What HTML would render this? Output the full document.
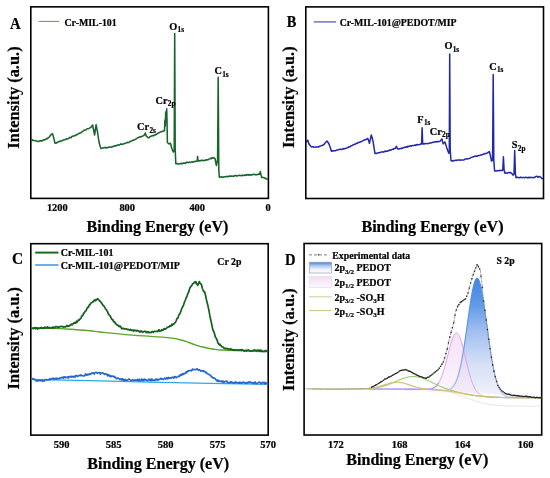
<!DOCTYPE html>
<html><head><meta charset="utf-8"><title>XPS spectra</title>
<style>
html,body{margin:0;padding:0;background:#fff;}
body{width:550px;height:478px;overflow:hidden;}
svg{display:block;}
svg text{font-family:'Liberation Serif','Times New Roman',serif;font-weight:bold;stroke:#000;stroke-width:0.22px;}
</style></head>
<body>
<svg width="550" height="478" viewBox="0 0 550 478">
<rect width="550" height="478" fill="#fff"/>
<rect x="30.8" y="6.85" width="237.60" height="191.55" fill="none" stroke="#000" stroke-width="1.6"/>
<polyline points="31.00,139.30 31.75,139.27 32.50,140.21 33.25,140.44 34.00,140.50 34.78,140.45 35.57,140.83 36.35,140.95 37.13,141.30 37.92,141.59 38.70,141.50 39.49,140.92 40.27,140.65 41.06,141.16 41.84,140.58 42.63,140.66 43.41,139.77 44.20,140.00 44.96,139.55 45.72,139.40 46.48,138.56 47.24,138.80 48.00,138.00 49.00,137.36 50.00,136.00 50.83,134.84 51.67,134.11 52.50,133.80 53.50,137.00 54.25,140.10 55.00,143.20 55.71,142.99 56.43,143.11 57.14,142.36 57.86,141.97 58.57,141.92 59.29,141.32 60.00,141.50 60.70,141.00 61.40,140.94 62.10,140.75 62.80,140.26 63.50,140.01 64.20,139.75 64.90,139.71 65.60,139.31 66.30,138.82 67.00,139.00 67.73,138.97 68.47,138.38 69.20,138.13 69.93,137.38 70.67,137.78 71.40,137.32 72.13,136.33 72.87,136.18 73.60,136.00 74.31,135.87 75.02,135.52 75.73,135.39 76.44,134.60 77.16,134.63 77.87,134.15 78.58,133.49 79.29,133.41 80.00,133.00 80.71,132.92 81.43,132.45 82.14,131.72 82.86,131.37 83.57,130.44 84.29,130.20 85.00,130.00 85.75,129.93 86.50,129.25 87.25,128.69 88.00,128.69 88.75,128.50 89.50,128.13 90.25,127.52 91.00,127.30 91.80,126.10 92.60,125.00 93.60,130.01 94.60,135.00 95.35,129.85 96.10,124.70 96.80,128.35 97.50,132.00 98.25,137.00 99.00,142.00 99.95,145.45 100.90,148.40 101.72,148.30 102.54,148.06 103.36,148.03 104.18,147.50 105.00,147.80 105.71,147.29 106.42,147.78 107.14,147.93 107.85,147.48 108.56,147.20 109.28,146.90 109.99,147.10 110.70,147.00 111.42,147.24 112.13,146.86 112.85,146.46 113.56,146.56 114.28,145.80 114.99,145.86 115.71,146.06 116.42,145.53 117.14,145.23 117.85,144.87 118.57,144.93 119.28,145.10 120.00,144.50 120.75,143.87 121.49,144.39 122.24,144.24 122.98,144.12 123.73,143.81 124.47,143.69 125.22,143.24 125.96,143.10 126.71,142.80 127.45,142.28 128.20,142.50 128.91,142.51 129.62,141.93 130.33,141.28 131.04,141.23 131.75,140.90 132.45,140.46 133.16,140.13 133.87,139.99 134.58,139.75 135.29,139.42 136.00,139.00 136.80,138.56 137.60,137.78 138.40,137.56 139.20,137.11 140.00,137.00 140.75,136.73 141.50,136.62 142.25,136.22 143.00,135.87 143.75,135.53 144.50,134.90 145.30,133.00 146.20,136.00 146.93,136.38 147.67,137.51 148.40,137.80 149.27,137.52 150.13,136.56 151.00,136.50 151.80,135.79 152.60,135.50 153.40,135.89 154.20,135.15 155.00,135.10 155.74,134.35 156.47,134.41 157.21,133.76 157.95,133.11 158.69,132.79 159.43,132.72 160.16,132.00 160.90,131.90 161.62,131.46 162.34,131.61 163.06,131.14 163.78,130.78 164.50,130.70 164.90,120.00 165.30,126.00 165.70,112.00 166.10,122.00 166.70,108.80 167.00,120.00 167.20,131.00 167.40,142.50 168.15,143.20 168.90,143.90 169.65,143.55 170.40,143.20 171.10,145.75 171.80,148.30 172.55,150.15 173.30,152.00 174.20,150.50 174.70,33.50 175.20,150.00 175.80,163.70 176.67,163.81 177.53,163.54 178.40,164.10 179.13,163.88 179.87,163.78 180.60,163.45 181.33,163.26 182.07,163.85 182.80,163.38 183.53,162.98 184.27,163.22 185.00,163.00 185.71,163.18 186.43,162.36 187.14,162.25 187.85,162.26 188.56,162.67 189.28,162.06 189.99,162.44 190.70,162.31 191.41,162.08 192.12,161.69 192.84,162.26 193.55,161.99 194.26,161.63 194.97,161.26 195.69,161.54 196.40,161.30 197.20,161.00 197.60,156.40 198.10,161.00 198.85,160.81 199.61,160.89 200.36,160.57 201.12,160.75 201.87,160.15 202.63,160.27 203.38,160.78 204.14,160.61 204.89,160.01 205.65,160.41 206.40,160.00 207.12,159.59 207.84,159.92 208.56,159.50 209.28,158.96 210.00,158.58 210.72,158.12 211.44,158.66 212.16,157.66 212.88,158.13 213.60,157.60 214.30,158.05 215.00,158.50 215.70,162.00 216.40,165.50 217.60,160.00 218.20,77.20 218.80,170.00 219.30,177.00 220.01,177.39 220.73,177.01 221.44,176.63 222.15,177.23 222.86,177.30 223.57,177.03 224.29,176.83 225.00,176.80 225.70,176.63 226.40,176.53 227.10,176.34 227.80,176.70 228.50,176.41 229.20,176.13 229.90,175.99 230.60,176.43 231.30,176.03 232.00,176.15 232.70,175.93 233.40,176.35 234.10,176.31 234.80,175.46 235.50,175.56 236.20,175.60 236.90,176.13 237.60,175.88 238.30,175.42 239.00,175.50 239.70,175.20 240.41,175.57 241.11,175.67 241.82,175.71 242.52,175.13 243.23,175.57 243.93,175.35 244.64,175.12 245.34,175.53 246.05,174.81 246.75,175.20 247.45,174.58 248.16,174.61 248.86,175.23 249.57,174.56 250.27,175.01 250.98,174.82 251.68,174.99 252.39,174.52 253.09,174.45 253.80,174.36 254.50,174.50 255.23,174.79 255.96,174.51 256.69,174.78 257.41,174.68 258.14,173.96 258.87,174.29 259.60,174.20 260.30,171.60 261.00,175.00 261.80,177.60 262.70,177.44 263.60,177.59 264.50,178.20 265.20,177.98 265.90,178.85 266.60,178.94 267.30,179.14 268.00,179.00" fill="none" stroke="#17652b" stroke-width="1.55" stroke-linejoin="round"/>
<line x1="38.8" y1="21.4" x2="59.2" y2="21.4" stroke="#4f9a6a" stroke-width="1"/>
<text x="64.5" y="25.5" font-size="10" text-anchor="start" fill="#000" textLength="52.2" lengthAdjust="spacingAndGlyphs" >Cr-MIL-101</text>
<text x="9.9" y="28.6" font-size="16.3" text-anchor="start" fill="#000" textLength="10.7" lengthAdjust="spacingAndGlyphs" >A</text>
<text x="57.3" y="211.4" font-size="10.4" text-anchor="middle" fill="#000" >1200</text>
<text x="127.2" y="211.4" font-size="10.4" text-anchor="middle" fill="#000" >800</text>
<text x="197.2" y="211.4" font-size="10.4" text-anchor="middle" fill="#000" >400</text>
<text x="268.2" y="211.4" font-size="10.4" text-anchor="middle" fill="#000" >0</text>
<text x="86.6" y="232.1" font-size="16.1" text-anchor="start" fill="#000" textLength="141.8" lengthAdjust="spacingAndGlyphs" >Binding Energy (eV)</text>
<text transform="translate(18.5,148.7) rotate(-90)" x="0" y="0" font-size="17" textLength="102.3" lengthAdjust="spacingAndGlyphs">Intensity (a.u.)</text>
<text x="169.2" y="29.70" font-size="10.3">O<tspan font-size="7.3" dx="0.3" dy="2.2" stroke="#000" stroke-width="0.2">1s</tspan></text>
<text x="214.4" y="74.40" font-size="10.3">C<tspan font-size="7.3" dx="0.3" dy="2.2" stroke="#000" stroke-width="0.2">1s</tspan></text>
<text x="155.5" y="104.00" font-size="10.3">Cr<tspan font-size="7.3" dx="0.3" dy="2.2" stroke="#000" stroke-width="0.2">2p</tspan></text>
<text x="137.1" y="130.40" font-size="10.3">Cr<tspan font-size="7.3" dx="0.3" dy="2.2" stroke="#000" stroke-width="0.2">2s</tspan></text>
<rect x="305.8" y="6.9" width="237.70" height="191.60" fill="none" stroke="#000" stroke-width="1.6"/>
<polyline points="306.20,143.00 306.80,141.00 307.80,140.20 309.00,144.00 309.90,145.36 310.80,146.36 311.70,147.00 312.43,146.65 313.17,146.67 313.90,147.27 314.63,147.19 315.37,147.14 316.10,146.85 316.83,147.08 317.57,147.09 318.30,147.00 319.08,146.73 319.87,146.06 320.65,145.94 321.43,145.58 322.22,145.51 323.00,145.00 323.75,144.65 324.50,143.86 325.25,142.79 326.00,142.00 327.00,141.00 328.00,142.46 329.00,144.00 329.80,146.25 330.60,148.50 331.40,151.30 332.13,150.78 332.87,150.98 333.60,150.72 334.33,150.63 335.07,150.89 335.80,150.45 336.53,150.34 337.27,149.93 338.00,150.00 338.72,149.45 339.43,149.53 340.15,149.21 340.87,149.34 341.58,149.57 342.30,149.14 343.02,148.58 343.73,148.98 344.45,148.74 345.17,148.52 345.88,148.49 346.60,148.00 347.32,147.86 348.05,147.54 348.77,146.84 349.49,147.00 350.22,146.64 350.94,145.65 351.66,145.78 352.38,145.40 353.11,144.85 353.83,144.56 354.55,144.18 355.28,144.19 356.00,143.50 356.74,143.20 357.47,143.17 358.21,142.48 358.94,142.61 359.68,142.32 360.41,141.67 361.15,141.45 361.89,141.44 362.62,140.98 363.36,140.49 364.09,139.98 364.83,139.76 365.56,139.76 366.30,139.30 367.05,138.85 367.80,138.40 368.60,140.53 369.40,143.20 370.35,139.38 371.30,134.90 372.15,137.76 373.00,141.00 374.00,147.58 375.00,153.50 375.73,153.19 376.45,153.56 377.18,153.20 377.91,152.89 378.64,152.74 379.36,152.69 380.09,152.49 380.82,152.11 381.55,151.88 382.27,151.96 383.00,151.80 383.73,151.99 384.46,151.58 385.19,150.98 385.92,151.42 386.65,151.18 387.38,151.17 388.11,150.43 388.84,150.72 389.57,150.01 390.30,150.20 391.04,150.05 391.79,149.48 392.53,149.17 393.27,149.41 394.01,148.53 394.76,148.59 395.50,148.30 396.40,146.30 397.30,148.50 398.15,149.03 399.00,149.00 399.73,148.60 400.47,148.38 401.20,148.72 401.93,148.17 402.67,148.21 403.40,147.47 404.13,147.54 404.87,147.19 405.60,147.40 406.33,146.73 407.07,147.24 407.80,146.30 408.53,146.67 409.27,145.91 410.00,146.10 410.72,145.79 411.43,146.12 412.15,145.48 412.87,145.38 413.58,145.67 414.30,145.31 415.02,144.92 415.73,145.56 416.45,144.77 417.17,144.56 417.88,144.69 418.60,144.70 419.35,144.59 420.10,144.49 420.85,143.79 421.60,143.90 422.10,127.80 422.70,143.90 423.65,143.77 424.60,143.90 425.37,143.38 426.14,143.57 426.91,143.68 427.69,143.52 428.46,143.51 429.23,143.25 430.00,142.90 430.71,143.06 431.43,142.81 432.14,142.49 432.86,142.17 433.57,142.39 434.29,141.98 435.00,142.00 435.71,141.60 436.43,141.79 437.14,142.04 437.86,141.36 438.57,141.64 439.29,141.40 440.00,141.40 440.95,140.16 441.90,138.90 443.20,143.90 444.10,142.67 445.00,142.00 446.30,146.40 447.60,150.20 448.80,153.30 449.30,150.00 449.70,53.90 450.20,150.00 451.00,160.80 451.70,160.80 452.45,161.12 453.21,160.52 453.96,160.75 454.72,160.55 455.47,160.19 456.23,160.57 456.98,160.19 457.74,160.08 458.49,160.02 459.25,160.07 460.00,160.30 460.72,159.84 461.43,160.12 462.15,159.88 462.87,160.12 463.58,159.94 464.30,159.85 465.02,159.09 465.73,159.12 466.45,158.83 467.17,158.96 467.88,158.84 468.60,158.60 469.38,158.54 470.16,158.17 470.94,157.51 471.72,157.34 472.50,157.10 473.25,156.96 474.00,156.38 474.75,156.25 475.50,156.39 476.25,155.99 477.00,156.32 477.75,155.77 478.50,155.50 479.25,155.41 480.00,155.50 480.73,155.01 481.45,154.73 482.18,154.70 482.91,154.38 483.64,153.98 484.36,153.98 485.09,153.36 485.82,153.64 486.55,153.42 487.27,152.96 488.00,152.50 489.40,151.60 490.50,156.00 491.50,161.10 492.60,160.00 493.20,74.40 493.80,160.00 494.60,171.00 495.31,170.90 496.02,170.92 496.73,170.93 497.44,170.46 498.16,170.71 498.87,170.75 499.58,170.43 500.29,170.32 501.00,170.60 501.90,170.54 502.80,170.00 503.40,156.80 504.10,170.00 505.00,173.20 505.77,172.96 506.54,172.96 507.31,173.15 508.09,172.77 508.86,172.39 509.63,172.82 510.40,172.30 511.27,173.16 512.13,173.85 513.00,175.20 514.00,174.00 514.70,150.40 515.40,174.00 516.00,177.50 516.75,177.66 517.50,177.20 518.25,177.37 519.00,177.81 519.75,177.68 520.50,177.16 521.25,177.52 522.00,177.50 522.75,177.56 523.50,177.35 524.25,177.66 525.00,177.60 525.74,177.25 526.48,177.41 527.22,177.48 527.95,177.92 528.69,177.22 529.43,177.76 530.17,177.30 530.91,177.60 531.65,177.44 532.38,177.49 533.12,177.72 533.86,177.42 534.60,177.50 535.50,176.60 536.40,176.30 537.20,176.50 538.00,177.30 538.90,176.61 539.80,176.60 541.00,177.50 542.00,178.48 543.00,178.90" fill="none" stroke="#2228a8" stroke-width="1.5" stroke-linejoin="round"/>
<line x1="313.8" y1="21.9" x2="336" y2="21.9" stroke="#5560b8" stroke-width="1.3"/>
<text x="339.7" y="25.6" font-size="10" text-anchor="start" fill="#000" textLength="116.8" lengthAdjust="spacingAndGlyphs" >Cr-MIL-101@PEDOT/MIP</text>
<text x="286.7" y="26.7" font-size="16.3" text-anchor="start" fill="#000" textLength="9.6" lengthAdjust="spacingAndGlyphs" >B</text>
<text x="361.4" y="231.9" font-size="16.1" text-anchor="start" fill="#000" textLength="142.2" lengthAdjust="spacingAndGlyphs" >Binding Energy (eV)</text>
<text transform="translate(293.5,148.0) rotate(-90)" x="0" y="0" font-size="17" textLength="101.6" lengthAdjust="spacingAndGlyphs">Intensity (a.u.)</text>
<text x="444.4" y="49.40" font-size="10.3">O<tspan font-size="7.3" dx="0.3" dy="2.2" stroke="#000" stroke-width="0.2">1s</tspan></text>
<text x="489.2" y="69.50" font-size="10.3">C<tspan font-size="7.3" dx="0.3" dy="2.2" stroke="#000" stroke-width="0.2">1s</tspan></text>
<text x="417.3" y="123.10" font-size="10.3">F<tspan font-size="7.3" dx="0.3" dy="2.2" stroke="#000" stroke-width="0.2">1s</tspan></text>
<text x="429.8" y="134.50" font-size="10.3">Cr<tspan font-size="7.3" dx="0.3" dy="2.2" stroke="#000" stroke-width="0.2">2p</tspan></text>
<text x="511.8" y="148.40" font-size="10.3">S<tspan font-size="7.3" dx="0.3" dy="2.2" stroke="#000" stroke-width="0.2">2p</tspan></text>
<rect x="30.8" y="243.7" width="237.40" height="191.40" fill="none" stroke="#000" stroke-width="1.6"/>
<path d="M31.00,328.20 C34.17,328.23 43.50,328.23 50.00,328.40 C56.50,328.57 63.33,328.80 70.00,329.20 C76.67,329.60 85.00,330.33 90.00,330.80 C95.00,331.27 94.10,331.37 100.00,332.00 C105.90,332.63 116.92,333.87 125.40,334.60 C133.88,335.33 144.30,335.93 150.90,336.40 C157.50,336.87 161.18,337.07 165.00,337.40 C168.82,337.73 171.30,338.02 173.80,338.40 C176.30,338.78 177.88,339.17 180.00,339.70 C182.12,340.23 184.58,340.97 186.50,341.60 C188.42,342.23 189.80,342.88 191.50,343.50 C193.20,344.12 195.03,344.75 196.70,345.30 C198.37,345.85 199.80,346.35 201.50,346.80 C203.20,347.25 204.82,347.60 206.90,348.00 C208.98,348.40 211.48,348.87 214.00,349.20 C216.52,349.53 217.67,349.77 222.00,350.00 C226.33,350.23 232.33,350.38 240.00,350.60 C247.67,350.82 263.33,351.18 268.00,351.30" fill="none" stroke="#5aa62a" stroke-width="1.4"/>
<polyline points="31.00,379.40 100.00,380.80 150.00,382.10 210.00,383.40 268.00,384.30" fill="none" stroke="#2ea8e8" stroke-width="1.3"/>
<polyline points="31.00,328.50 31.60,328.05 32.20,328.50 32.80,328.19 33.40,328.53 34.00,328.53 34.60,327.60 35.20,327.49 35.80,328.77 36.40,327.81 37.00,327.74 37.60,328.93 38.20,328.05 38.80,328.61 39.40,328.00 40.00,328.00 40.62,328.19 41.25,327.38 41.88,328.12 42.50,328.46 43.12,327.88 43.75,328.20 44.38,328.06 45.00,327.05 45.62,328.13 46.25,327.83 46.88,327.34 47.50,326.87 48.12,328.18 48.75,327.52 49.38,327.88 50.00,327.50 50.60,328.07 51.20,327.78 51.80,328.07 52.40,327.20 53.00,327.81 53.60,327.21 54.20,327.96 54.80,327.84 55.40,326.56 56.00,326.58 56.60,326.68 57.20,327.10 57.81,327.77 58.41,326.85 59.02,327.09 59.62,326.49 60.23,326.75 60.83,326.48 61.44,326.36 62.04,326.66 62.65,326.58 63.26,327.02 63.86,326.60 64.47,326.92 65.07,326.73 65.68,326.87 66.28,326.29 66.89,325.41 67.49,326.45 68.10,325.80 68.76,326.29 69.41,325.94 70.07,325.14 70.72,325.12 71.38,324.06 72.03,324.80 72.69,324.13 73.34,323.41 74.00,323.50 74.62,322.40 75.25,323.27 75.88,323.08 76.50,321.24 77.12,321.98 77.75,320.96 78.38,320.14 79.00,320.30 79.67,319.09 80.33,318.96 81.00,318.25 81.67,316.04 82.33,316.07 83.00,315.00 83.68,313.12 84.37,313.05 85.05,311.28 85.73,311.01 86.42,310.02 87.10,308.10 87.71,307.41 88.32,307.50 88.94,305.70 89.55,304.62 90.16,304.76 90.78,303.15 91.39,302.72 92.00,302.50 92.61,301.92 93.22,301.81 93.83,300.65 94.44,300.03 95.06,300.92 95.67,299.60 96.28,300.20 96.89,299.67 97.50,298.60 98.10,298.98 98.70,299.70 99.30,300.37 99.90,301.15 100.50,301.50 101.10,302.43 101.70,303.15 102.30,304.03 102.90,305.32 103.50,305.40 104.20,306.53 104.90,307.53 105.60,309.11 106.30,309.46 107.00,311.00 107.66,311.82 108.31,314.05 108.97,314.46 109.63,315.65 110.29,315.93 110.94,317.72 111.60,319.00 112.23,319.84 112.86,319.66 113.49,321.33 114.11,322.07 114.74,321.87 115.37,323.49 116.00,324.00 116.65,324.40 117.30,325.19 117.95,325.11 118.60,326.13 119.25,326.63 119.90,325.94 120.55,326.45 121.20,327.88 121.85,328.79 122.50,328.50 123.12,328.23 123.75,328.68 124.38,329.02 125.00,328.71 125.62,328.91 126.25,328.95 126.88,329.17 127.50,329.65 128.12,329.31 128.75,329.55 129.38,330.31 130.00,330.00 130.63,329.33 131.26,330.28 131.89,330.63 132.51,330.04 133.14,329.98 133.77,331.00 134.40,330.18 135.03,330.19 135.66,330.67 136.29,331.17 136.91,330.31 137.54,330.74 138.17,330.85 138.80,331.20 139.41,331.80 140.01,331.23 140.62,331.97 141.22,330.94 141.83,331.27 142.43,331.84 143.04,332.28 143.64,331.66 144.25,331.36 144.86,331.26 145.46,331.98 146.07,331.51 146.67,332.56 147.28,332.67 147.88,331.69 148.49,331.91 149.09,332.82 149.70,332.40 150.33,332.54 150.96,332.71 151.59,331.88 152.22,331.45 152.85,331.62 153.48,332.33 154.11,331.40 154.74,331.43 155.37,331.46 156.00,331.50 156.63,331.19 157.27,330.99 157.90,331.62 158.53,330.22 159.17,329.79 159.80,331.11 160.43,330.82 161.07,330.81 161.70,329.74 162.33,330.39 162.97,330.17 163.60,329.30 164.20,328.60 164.80,329.18 165.40,329.07 166.00,328.54 166.60,328.05 167.20,327.43 167.80,327.26 168.40,326.82 169.00,327.00 169.61,325.88 170.22,326.28 170.83,325.36 171.44,325.76 172.06,324.11 172.67,325.05 173.28,324.28 173.89,324.21 174.50,323.10 175.10,322.81 175.70,321.90 176.30,320.46 176.90,318.64 177.50,318.50 178.10,317.64 178.70,315.47 179.30,314.43 179.90,313.50 180.55,312.14 181.20,310.29 181.85,308.49 182.50,307.00 183.22,305.95 183.95,303.68 184.68,301.50 185.40,300.00 186.10,297.77 186.80,296.91 187.50,294.50 188.10,292.96 188.70,291.95 189.30,289.76 189.90,288.02 190.50,287.00 191.17,286.06 191.83,285.51 192.50,284.00 193.25,283.50 194.00,283.00 194.63,282.01 195.27,282.53 195.90,281.60 196.75,284.12 197.60,285.30 198.45,283.94 199.30,281.60 200.15,283.32 201.00,284.00 201.67,285.21 202.33,288.21 203.00,290.00 203.67,291.58 204.33,291.28 205.00,293.00 205.75,296.50 206.50,300.00 207.25,303.00 208.00,306.00 208.63,308.97 209.27,312.30 209.90,316.00 210.55,319.04 211.20,321.88 211.85,324.96 212.50,328.00 213.20,330.69 213.90,331.70 214.60,334.04 215.30,337.00 215.94,337.70 216.58,339.00 217.22,340.21 217.86,342.96 218.50,343.50 219.22,344.77 219.94,344.24 220.66,345.60 221.38,346.01 222.10,347.00 222.75,347.00 223.40,347.36 224.05,348.14 224.70,348.34 225.35,348.28 226.00,348.80 226.62,348.41 227.24,348.73 227.87,348.50 228.49,349.29 229.11,349.65 229.73,349.21 230.36,348.83 230.98,349.09 231.60,349.70 232.21,349.53 232.82,349.93 233.43,350.25 234.04,349.64 234.65,350.34 235.25,350.09 235.86,349.81 236.47,349.75 237.08,349.98 237.69,350.34 238.30,349.92 238.91,350.39 239.52,350.05 240.13,349.74 240.74,350.23 241.35,350.52 241.95,349.56 242.56,350.15 243.17,350.19 243.78,350.94 244.39,351.07 245.00,350.40 245.61,350.22 246.22,351.08 246.83,350.93 247.44,350.11 248.06,350.45 248.67,349.93 249.28,351.06 249.89,350.84 250.50,351.22 251.11,351.09 251.72,350.91 252.33,351.04 252.94,350.79 253.56,350.08 254.17,350.87 254.78,349.96 255.39,350.21 256.00,350.80 256.60,351.25 257.20,350.10 257.80,350.19 258.40,350.22 259.00,351.48 259.60,350.38 260.20,350.14 260.80,351.47 261.40,350.33 262.00,351.50 262.60,351.24 263.20,351.52 263.80,351.72 264.40,351.14 265.00,351.50 265.60,350.30 266.20,351.48 266.80,351.09 267.40,351.43 268.00,351.10" fill="none" stroke="#14621d" stroke-width="1.7" stroke-linejoin="round"/>
<polyline points="31.00,378.80 31.67,378.52 32.33,378.49 33.00,379.21 33.67,378.98 34.33,379.02 35.00,380.00 35.66,379.93 36.31,380.97 36.97,380.87 37.62,380.92 38.28,380.06 38.93,380.73 39.59,380.38 40.24,380.30 40.90,381.00 41.55,380.15 42.19,380.21 42.84,381.36 43.48,381.05 44.13,380.87 44.77,380.72 45.42,379.49 46.06,379.57 46.71,380.00 47.35,380.05 48.00,379.50 48.61,380.06 49.23,380.02 49.84,378.52 50.45,379.37 51.07,379.41 51.68,379.03 52.29,378.36 52.91,378.81 53.52,378.04 54.13,379.48 54.75,379.28 55.36,378.63 55.97,378.10 56.59,379.12 57.20,378.30 57.81,378.37 58.42,378.86 59.03,378.74 59.64,378.07 60.25,377.84 60.86,378.11 61.47,377.74 62.08,377.20 62.69,377.39 63.30,378.24 63.90,376.80 64.51,376.74 65.12,377.72 65.73,377.04 66.34,377.43 66.95,377.26 67.56,376.96 68.17,378.08 68.78,376.58 69.39,376.90 70.00,377.00 70.62,376.39 71.23,377.09 71.85,376.38 72.46,376.45 73.08,377.08 73.69,376.24 74.31,376.59 74.93,377.14 75.54,375.62 76.16,375.47 76.77,375.70 77.39,376.59 78.01,376.25 78.62,375.50 79.24,375.59 79.85,375.24 80.47,375.67 81.08,374.85 81.70,375.60 82.34,375.82 82.98,376.04 83.62,376.00 84.25,375.47 84.89,375.74 85.53,373.90 86.17,374.25 86.81,375.33 87.45,374.85 88.08,374.05 88.72,374.87 89.36,374.16 90.00,373.80 90.62,374.30 91.23,373.29 91.85,373.04 92.46,373.42 93.08,372.80 93.69,373.17 94.31,374.15 94.92,372.94 95.54,372.29 96.15,372.29 96.77,372.44 97.38,373.48 98.00,372.90 98.60,372.76 99.20,372.74 99.80,372.50 100.40,374.21 101.00,373.31 101.60,373.03 102.20,372.88 102.80,372.98 103.40,373.29 104.00,374.00 104.63,374.49 105.27,373.72 105.90,373.70 106.53,374.68 107.17,374.42 107.80,375.95 108.43,374.55 109.07,375.45 109.70,376.07 110.33,375.59 110.97,376.80 111.60,376.10 112.23,376.31 112.86,376.14 113.49,376.70 114.12,376.28 114.75,377.23 115.38,377.17 116.02,378.58 116.65,378.73 117.28,378.38 117.91,377.80 118.54,378.45 119.17,378.68 119.80,379.40 120.40,378.90 121.00,378.96 121.60,380.14 122.20,378.85 122.80,378.71 123.40,380.31 124.00,379.68 124.60,380.47 125.20,379.44 125.80,380.36 126.40,379.94 127.00,380.21 127.60,380.15 128.20,379.72 128.80,379.02 129.40,379.26 130.00,379.80 130.62,380.48 131.23,380.53 131.85,380.58 132.46,379.53 133.08,380.11 133.69,380.38 134.31,380.10 134.93,380.42 135.54,379.91 136.16,380.14 136.77,380.20 137.39,379.46 138.00,380.64 138.62,380.71 139.23,379.13 139.85,380.75 140.47,380.74 141.08,380.22 141.70,379.10 142.31,380.64 142.93,379.26 143.54,380.78 144.16,380.24 144.77,379.16 145.39,379.36 146.01,380.21 146.62,380.09 147.24,380.42 147.85,380.75 148.47,379.48 149.08,379.10 149.70,380.00 150.31,380.72 150.91,379.04 151.52,380.55 152.12,379.14 152.73,380.35 153.34,380.26 153.94,380.39 154.55,379.76 155.15,380.31 155.76,379.05 156.36,379.86 156.97,379.20 157.58,380.17 158.18,379.92 158.79,379.33 159.39,379.39 160.00,379.30 160.62,378.37 161.25,378.30 161.88,379.23 162.50,378.95 163.12,379.55 163.75,379.01 164.38,378.08 165.00,378.40 165.62,379.05 166.25,378.53 166.88,377.53 167.50,378.93 168.12,378.83 168.75,377.42 169.38,378.16 170.00,378.00 170.65,377.69 171.31,378.32 171.96,377.36 172.62,377.12 173.27,377.48 173.93,378.24 174.58,376.57 175.24,376.51 175.89,377.32 176.55,377.69 177.20,376.90 177.83,376.61 178.47,376.15 179.10,376.59 179.73,376.13 180.37,374.54 181.00,375.00 181.63,375.39 182.26,373.85 182.89,373.74 183.51,374.41 184.14,373.36 184.77,373.74 185.40,372.90 186.06,371.96 186.71,372.89 187.37,371.29 188.03,370.90 188.69,371.18 189.34,370.55 190.00,370.50 190.61,370.43 191.22,370.93 191.84,370.43 192.45,369.01 193.06,369.41 193.68,369.68 194.29,369.43 194.90,369.30 195.58,369.77 196.27,369.44 196.95,368.79 197.63,369.18 198.32,370.34 199.00,369.80 199.60,369.70 200.20,370.59 200.80,371.14 201.40,370.65 202.00,370.90 202.60,370.93 203.20,370.55 203.80,371.79 204.40,371.20 205.08,371.61 205.77,372.87 206.45,372.25 207.13,373.73 207.82,374.05 208.50,374.00 209.18,374.79 209.87,375.06 210.55,375.10 211.23,376.82 211.92,376.67 212.60,377.50 213.28,378.29 213.96,377.84 214.64,378.25 215.32,378.86 216.00,380.00 216.67,380.78 217.34,379.88 218.01,381.41 218.69,380.68 219.36,381.28 220.03,381.10 220.70,381.60 221.32,381.85 221.94,380.94 222.57,381.53 223.19,382.52 223.81,381.20 224.43,382.09 225.05,381.53 225.67,381.52 226.30,381.05 226.92,381.08 227.54,382.79 228.16,382.61 228.78,382.59 229.40,382.64 230.03,382.94 230.65,381.54 231.27,382.34 231.89,382.22 232.51,382.39 233.13,383.08 233.76,382.80 234.38,383.21 235.00,382.40 235.60,381.72 236.20,382.70 236.80,382.75 237.40,382.89 238.00,382.67 238.60,383.07 239.20,382.13 239.80,383.27 240.40,382.34 241.00,382.70 241.60,383.25 242.20,382.91 242.80,382.21 243.40,382.08 244.00,382.27 244.60,382.82 245.20,383.50 245.80,383.33 246.40,382.45 247.00,382.46 247.60,383.22 248.20,382.27 248.80,382.52 249.40,381.81 250.00,382.70 250.60,382.14 251.20,382.79 251.80,383.07 252.40,382.93 253.00,382.49 253.60,383.55 254.20,382.97 254.80,382.13 255.40,381.98 256.00,383.62 256.60,383.65 257.20,383.54 257.80,382.97 258.40,382.46 259.00,382.06 259.60,382.37 260.20,382.31 260.80,383.59 261.40,383.53 262.00,383.33 262.60,382.21 263.20,382.38 263.80,382.49 264.40,383.67 265.00,382.26 265.60,383.40 266.20,383.21 266.80,382.97 267.40,383.72 268.00,382.90" fill="none" stroke="#2466d0" stroke-width="1.6" stroke-linejoin="round"/>
<line x1="35.2" y1="252.6" x2="58.5" y2="252.6" stroke="#1a6e1e" stroke-width="2"/>
<line x1="35.2" y1="265.0" x2="58.5" y2="265.0" stroke="#2f8ae0" stroke-width="1.4"/>
<text x="60.7" y="256.4" font-size="10" text-anchor="start" fill="#000" textLength="52.8" lengthAdjust="spacingAndGlyphs" >Cr-MIL-101</text>
<text x="60.7" y="268.7" font-size="10" text-anchor="start" fill="#000" textLength="119.3" lengthAdjust="spacingAndGlyphs" >Cr-MIL-101@PEDOT/MIP</text>
<text x="217.3" y="265.0" font-size="10" text-anchor="start" fill="#000" textLength="24.1" lengthAdjust="spacingAndGlyphs" >Cr 2p</text>
<text x="11.9" y="263.9" font-size="16.3" text-anchor="start" fill="#000" textLength="11.1" lengthAdjust="spacingAndGlyphs" >C</text>
<text x="61.6" y="447.7" font-size="10.5" text-anchor="middle" fill="#000" >590</text>
<text x="113.6" y="447.7" font-size="10.5" text-anchor="middle" fill="#000" >585</text>
<text x="165.6" y="447.7" font-size="10.5" text-anchor="middle" fill="#000" >580</text>
<text x="217.6" y="447.7" font-size="10.5" text-anchor="middle" fill="#000" >575</text>
<text x="268.2" y="447.7" font-size="10.5" text-anchor="middle" fill="#000" >570</text>
<text x="87.3" y="468.8" font-size="16.1" text-anchor="start" fill="#000" textLength="141.9" lengthAdjust="spacingAndGlyphs" >Binding Energy (eV)</text>
<text transform="translate(19.4,389.4) rotate(-90)" x="0" y="0" font-size="17" textLength="102.3" lengthAdjust="spacingAndGlyphs">Intensity (a.u.)</text>
<rect x="304.1" y="243.5" width="237.60" height="191.50" fill="none" stroke="#000" stroke-width="1.6"/>
<defs><linearGradient id="gb" x1="0" y1="0" x2="0" y2="1"><stop offset="0" stop-color="#3f84e2"/><stop offset="0.22" stop-color="#629ae6"/><stop offset="0.45" stop-color="#a4c0f0"/><stop offset="0.72" stop-color="#d6e0f7"/><stop offset="1" stop-color="#f3f3fc"/></linearGradient><linearGradient id="sb" gradientUnits="userSpaceOnUse" x1="0" y1="278" x2="0" y2="396"><stop offset="0" stop-color="#4a90e4"/><stop offset="0.5" stop-color="#5c9ae6"/><stop offset="0.85" stop-color="#98aeea"/><stop offset="1" stop-color="#b8c0ee"/></linearGradient><linearGradient id="gp" x1="0" y1="0" x2="0" y2="1"><stop offset="0" stop-color="#f0c8f2"/><stop offset="1" stop-color="#faeefa"/></linearGradient><linearGradient id="lgb" x1="0" y1="0" x2="0" y2="1"><stop offset="0" stop-color="#3d7fe0"/><stop offset="0.3" stop-color="#a6c2f0"/><stop offset="0.65" stop-color="#eef2fc"/><stop offset="1" stop-color="#fdfdff"/></linearGradient><linearGradient id="lgp" x1="0" y1="0" x2="0" y2="1"><stop offset="0" stop-color="#f2def6"/><stop offset="1" stop-color="#fcf8fd"/></linearGradient></defs>
<polyline points="420.10,389.32 420.60,389.33 421.10,389.35 421.60,389.36 422.10,389.38 422.60,389.39 423.10,389.41 423.60,389.43 424.10,389.44 424.60,389.46 425.10,389.48 425.60,389.50 426.10,389.52 426.60,389.55 427.10,389.57 427.60,389.59 428.10,389.62 428.60,389.65 429.10,389.67 429.60,389.70 430.10,389.73 430.60,389.76 431.10,389.79 431.60,389.83 432.10,389.86 432.60,389.90 433.10,389.93 433.60,389.97 434.10,390.01 434.60,390.05 435.10,390.10 435.60,390.14 436.10,390.19 436.60,390.24 437.10,390.29 437.60,390.34 438.10,390.39 438.60,390.45 439.10,390.51 439.60,390.57 440.10,390.63 440.60,390.69 441.10,390.76 441.60,390.83 442.10,390.90 442.60,390.97 443.10,391.05 443.60,391.13 444.10,391.21 444.60,391.29 445.10,391.38 445.60,391.47 446.10,391.56 446.60,391.66 447.10,391.75 447.60,391.85 448.10,391.96 448.60,392.07 449.10,392.17 449.60,392.29 450.10,392.40 450.60,392.52 451.10,392.64 451.60,392.77 452.10,392.90 452.60,393.03 453.10,393.16 453.60,393.30 454.10,393.44 454.60,393.59 455.10,393.73 455.60,393.88 456.10,394.03 456.60,394.19 457.10,394.35 457.60,394.51 458.10,394.67 458.60,394.84 459.10,395.01 459.60,395.18 460.10,395.36 460.60,395.53 461.10,395.71 461.60,395.89 462.10,396.07 462.60,396.26 463.10,396.44 463.60,396.63 464.10,396.82 464.60,397.00 465.10,397.19 465.60,397.38 466.10,397.58 466.60,397.77 467.10,397.96 467.60,398.15 468.10,398.34 468.60,398.53 469.10,398.72 469.60,398.91 470.10,399.10 470.60,399.29 471.10,399.48 471.60,399.66 472.10,399.84 472.60,400.03 473.10,400.20 473.60,400.38 474.10,400.56 474.60,400.73 475.10,400.90 475.60,401.07 476.10,401.23 476.60,401.39 477.10,401.55 477.60,401.71 478.10,401.86 478.60,402.01 479.10,402.15 479.60,402.30 480.10,402.44 480.60,402.57 481.10,402.70 481.60,402.83 482.10,402.96 482.60,403.08 483.10,403.20 483.60,403.32 484.10,403.43 484.60,403.54 485.10,403.64 485.60,403.74 486.10,403.84 486.60,403.94 487.10,404.03 487.60,404.12 488.10,404.21 488.60,404.29 489.10,404.37 489.60,404.45 490.10,404.52 490.60,404.60 491.10,404.67 491.60,404.73 492.10,404.80 492.60,404.86 493.10,404.92 493.60,404.98 494.10,405.03 494.60,405.09 495.10,405.14 495.60,405.19 496.10,405.23 496.60,405.28 497.10,405.32 497.60,405.36 498.10,405.40 498.60,405.44 499.10,405.48 499.60,405.51 500.10,405.55 500.60,405.58 501.10,405.61 501.60,405.64 502.10,405.67 502.60,405.70 503.10,405.72 503.60,405.75 504.10,405.77 504.60,405.80 505.10,405.82 505.60,405.84 506.10,405.86 506.60,405.88 507.10,405.90 507.60,405.91 508.10,405.93 508.60,405.95 509.10,405.96 509.60,405.98 510.10,405.99 510.60,406.01 511.10,406.02 511.60,406.03 512.10,406.04 512.60,406.05 513.10,406.06 513.60,406.07 514.10,406.08 514.60,406.09 515.10,406.10 515.60,406.11 516.10,406.12 516.60,406.13 517.10,406.14 517.60,406.14 518.10,406.15 518.60,406.16 519.10,406.16 519.60,406.17 520.10,406.17 520.60,406.18 521.10,406.19 521.60,406.19 522.10,406.20 522.60,406.20 523.10,406.20 523.60,406.21 524.10,406.21 524.60,406.22 525.10,406.22 525.60,406.22 526.10,406.23 526.60,406.23 527.10,406.23 527.60,406.24 528.10,406.24 528.60,406.24 529.10,406.24 529.60,406.25 530.10,406.25 530.60,406.25 531.10,406.25 531.60,406.26 532.10,406.26 532.60,406.26 533.10,406.26 533.60,406.26 534.10,406.26 534.60,406.27 535.10,406.27 535.60,406.27 536.10,406.27 536.60,406.27 537.10,406.27 537.60,406.27 538.10,406.28 538.60,406.28 539.10,406.28 539.60,406.28 540.10,406.28 540.60,406.28 541.10,406.28" fill="none" stroke="#e2e2e2" stroke-width="1"/>
<polygon points="420.10,389.26 420.60,389.27 421.10,389.28 421.60,389.29 422.10,389.31 422.60,389.32 423.10,389.33 423.60,389.34 424.10,389.36 424.60,389.37 425.10,389.39 425.60,389.40 426.10,389.42 426.60,389.44 427.10,389.46 427.60,389.47 428.10,389.49 428.60,389.51 429.10,389.53 429.60,389.55 430.10,389.58 430.60,389.60 431.10,389.62 431.60,389.65 432.10,389.67 432.60,389.70 433.10,389.72 433.60,389.75 434.10,389.78 434.60,389.81 435.10,389.84 435.60,389.87 436.10,389.90 436.60,389.93 437.10,389.96 437.60,389.99 438.10,390.02 438.60,390.05 439.10,390.08 439.60,390.11 440.10,390.14 440.60,390.17 441.10,390.20 441.60,390.22 442.10,390.24 442.60,390.26 443.10,390.27 443.60,390.27 444.10,390.27 444.60,390.26 445.10,390.24 445.60,390.21 446.10,390.16 446.60,390.10 447.10,390.02 447.60,389.92 448.10,389.80 448.60,389.65 449.10,389.47 449.60,389.26 450.10,389.01 450.60,388.72 451.10,388.38 451.60,387.99 452.10,387.55 452.60,387.05 453.10,386.47 453.60,385.83 454.10,385.11 454.60,384.30 455.10,383.40 455.60,382.41 456.10,381.31 456.60,380.10 457.10,378.79 457.60,377.35 458.10,375.78 458.60,374.09 459.10,372.27 459.60,370.31 460.10,368.21 460.60,365.97 461.10,363.60 461.60,361.09 462.10,358.44 462.60,355.66 463.10,352.75 463.60,349.72 464.10,346.58 464.60,343.33 465.10,340.00 465.60,336.58 466.10,333.09 466.60,329.56 467.10,325.99 467.60,322.41 468.10,318.82 468.60,315.27 469.10,311.75 469.60,308.30 470.10,304.94 470.60,301.69 471.10,298.57 471.60,295.61 472.10,292.82 472.60,290.22 473.10,287.84 473.60,285.70 474.10,283.80 474.60,282.16 475.10,280.81 475.60,279.74 476.10,278.98 476.60,278.51 477.10,278.36 477.60,278.52 478.10,278.98 478.60,279.75 479.10,280.83 479.60,282.19 480.10,283.84 480.60,285.76 481.10,287.93 481.60,290.35 482.10,292.99 482.60,295.83 483.10,298.85 483.60,302.04 484.10,305.36 484.60,308.81 485.10,312.35 485.60,315.96 486.10,319.63 486.60,323.33 487.10,327.03 487.60,330.73 488.10,334.41 488.60,338.04 489.10,341.60 489.60,345.10 490.10,348.50 490.60,351.80 491.10,355.00 491.60,358.07 492.10,361.02 492.60,363.84 493.10,366.53 493.60,369.07 494.10,371.48 494.60,373.74 495.10,375.87 495.60,377.86 496.10,379.71 496.60,381.43 497.10,383.03 497.60,384.50 498.10,385.85 498.60,387.10 499.10,388.23 499.60,389.27 500.10,390.21 500.60,391.06 501.10,391.83 501.60,392.52 502.10,393.14 502.60,393.70 503.10,394.20 503.60,394.64 504.10,395.03 504.60,395.38 505.10,395.69 505.60,395.96 506.10,396.19 506.60,396.40 507.10,396.58 507.60,396.74 508.10,396.88 508.60,397.00 509.10,397.10 509.60,397.19 510.10,397.27 510.60,397.34 511.10,397.39 511.60,397.44 512.10,397.49 512.60,397.52 513.10,397.55 513.60,397.58 514.10,397.60 514.60,397.62 515.10,397.64 515.60,397.65 516.10,397.67 516.60,397.68 517.10,397.69 517.60,397.70 518.10,397.70 518.60,397.71 519.10,397.71 519.60,397.72 520.10,397.72 520.60,397.73 521.10,397.73 521.60,397.74 522.10,397.74 522.60,397.74 523.10,397.74 523.60,397.75 524.10,397.75 524.60,397.75 525.10,397.75 525.60,397.76 526.10,397.76 526.60,397.76 527.10,397.76 527.60,397.76 528.10,397.76 528.60,397.77 529.10,397.77 529.60,397.77 530.10,397.77 530.60,397.77 531.10,397.77 531.60,397.77 532.10,397.77 532.60,397.78 533.10,397.78 533.60,397.78 534.10,397.78 534.60,397.78 535.10,397.78 535.60,397.78 536.10,397.78 536.60,397.78 537.10,397.78 537.60,397.78 538.10,397.78 538.60,397.79 539.10,397.79 539.60,397.79 540.10,397.79 540.60,397.79 541.10,397.79" fill="url(#gb)" stroke="none"/>
<polygon points="368.10,389.00 368.60,389.00 369.10,389.00 369.60,389.00 370.10,389.00 370.60,389.00 371.10,389.00 371.60,389.00 372.10,389.00 372.60,389.01 373.10,389.01 373.60,389.01 374.10,389.01 374.60,389.01 375.10,389.01 375.60,389.01 376.10,389.01 376.60,389.01 377.10,389.01 377.60,389.01 378.10,389.01 378.60,389.01 379.10,389.01 379.60,389.01 380.10,389.01 380.60,389.01 381.10,389.01 381.60,389.01 382.10,389.01 382.60,389.01 383.10,389.01 383.60,389.01 384.10,389.01 384.60,389.01 385.10,389.01 385.60,389.02 386.10,389.02 386.60,389.02 387.10,389.02 387.60,389.02 388.10,389.02 388.60,389.02 389.10,389.02 389.60,389.02 390.10,389.02 390.60,389.02 391.10,389.02 391.60,389.02 392.10,389.03 392.60,389.03 393.10,389.03 393.60,389.03 394.10,389.03 394.60,389.03 395.10,389.03 395.60,389.03 396.10,389.04 396.60,389.04 397.10,389.04 397.60,389.04 398.10,389.04 398.60,389.04 399.10,389.05 399.60,389.05 400.10,389.05 400.60,389.05 401.10,389.05 401.60,389.06 402.10,389.06 402.60,389.06 403.10,389.06 403.60,389.07 404.10,389.07 404.60,389.07 405.10,389.08 405.60,389.08 406.10,389.08 406.60,389.09 407.10,389.09 407.60,389.09 408.10,389.10 408.60,389.10 409.10,389.11 409.60,389.11 410.10,389.11 410.60,389.12 411.10,389.12 411.60,389.13 412.10,389.14 412.60,389.14 413.10,389.15 413.60,389.15 414.10,389.16 414.60,389.17 415.10,389.17 415.60,389.18 416.10,389.19 416.60,389.19 417.10,389.20 417.60,389.21 418.10,389.22 418.60,389.23 419.10,389.23 419.60,389.24 420.10,389.25 420.60,389.26 421.10,389.27 421.60,389.27 422.10,389.28 422.60,389.29 423.10,389.29 423.60,389.29 424.10,389.30 424.60,389.30 425.10,389.29 425.60,389.29 426.10,389.28 426.60,389.27 427.10,389.25 427.60,389.22 428.10,389.19 428.60,389.15 429.10,389.10 429.60,389.04 430.10,388.96 430.60,388.87 431.10,388.76 431.60,388.63 432.10,388.48 432.60,388.30 433.10,388.09 433.60,387.86 434.10,387.58 434.60,387.27 435.10,386.92 435.60,386.52 436.10,386.07 436.60,385.56 437.10,385.00 437.60,384.37 438.10,383.68 438.60,382.92 439.10,382.08 439.60,381.17 440.10,380.18 440.60,379.11 441.10,377.95 441.60,376.71 442.10,375.38 442.60,373.97 443.10,372.48 443.60,370.91 444.10,369.27 444.60,367.55 445.10,365.77 445.60,363.93 446.10,362.04 446.60,360.11 447.10,358.16 447.60,356.18 448.10,354.19 448.60,352.22 449.10,350.26 449.60,348.34 450.10,346.47 450.60,344.66 451.10,342.93 451.60,341.30 452.10,339.78 452.60,338.38 453.10,337.12 453.60,336.00 454.10,335.04 454.60,334.26 455.10,333.64 455.60,333.22 456.10,332.98 456.60,332.93 457.10,333.08 457.60,333.41 458.10,333.94 458.60,334.65 459.10,335.54 459.60,336.61 460.10,337.83 460.60,339.21 461.10,340.73 461.60,342.37 462.10,344.13 462.60,345.99 463.10,347.93 463.60,349.94 464.10,352.00 464.60,354.11 465.10,356.24 465.60,358.38 466.10,360.51 466.60,362.63 467.10,364.73 467.60,366.78 468.10,368.78 468.60,370.73 469.10,372.62 469.60,374.43 470.10,376.17 470.60,377.82 471.10,379.39 471.60,380.88 472.10,382.28 472.60,383.60 473.10,384.82 473.60,385.96 474.10,387.02 474.60,388.00 475.10,388.90 475.60,389.73 476.10,390.49 476.60,391.17 477.10,391.80 477.60,392.37 478.10,392.88 478.60,393.35 479.10,393.76 479.60,394.14 480.10,394.47 480.60,394.77 481.10,395.04 481.60,395.28 482.10,395.49 482.60,395.68 483.10,395.85 483.60,396.00 484.10,396.13 484.60,396.25 485.10,396.35 485.60,396.45 486.10,396.53 486.60,396.61 487.10,396.68 487.60,396.74 488.10,396.80 488.60,396.85 489.10,396.90 489.60,396.94 490.10,396.98 490.60,397.02 491.10,397.06 491.60,397.09 492.10,397.12 492.60,397.15 493.10,397.18 493.60,397.20 494.10,397.23 494.60,397.25 495.10,397.27 495.60,397.29 496.10,397.31 496.60,397.33 497.10,397.35 497.60,397.37 498.10,397.39 498.60,397.40 499.10,397.42 499.60,397.43 500.10,397.45 500.60,397.46 501.10,397.47 501.60,397.49 502.10,397.50 502.60,397.51 503.10,397.52 503.60,397.53 504.10,397.54 504.60,397.55 505.10,397.56 505.60,397.57 506.10,397.58 506.60,397.59 507.10,397.60 507.60,397.61 508.10,397.62 508.60,397.62 509.10,397.63 509.60,397.64 510.10,397.64 510.60,397.65 511.10,397.66 511.60,397.66 512.10,397.67 512.60,397.67 513.10,397.68 513.60,397.68 514.10,397.69 514.60,397.69 515.10,397.70 515.60,397.70 516.10,397.70 516.60,397.71 517.10,397.71 517.60,397.72 518.10,397.72 518.60,397.72 519.10,397.73 519.60,397.73 520.10,397.73 520.60,397.73 521.10,397.74 521.60,397.74 522.10,397.74 522.60,397.74 523.10,397.75 523.60,397.75 524.10,397.75 524.60,397.75 525.10,397.75 525.60,397.76 526.10,397.76 526.60,397.76 527.10,397.76 527.60,397.76 528.10,397.76 528.60,397.77 529.10,397.77 529.60,397.77 530.10,397.77 530.60,397.77 531.10,397.77 531.60,397.77 532.10,397.77 532.60,397.78 533.10,397.78 533.60,397.78 534.10,397.78 534.60,397.78 535.10,397.78 535.60,397.78 536.10,397.78 536.60,397.78 537.10,397.78 537.60,397.78 538.10,397.78 538.60,397.79 539.10,397.79 539.60,397.79 540.10,397.79 540.60,397.79 541.10,397.79" fill="url(#gp)" fill-opacity="0.55" stroke="none"/>
<polyline points="368.10,389.00 368.60,389.00 369.10,389.00 369.60,389.00 370.10,389.00 370.60,389.00 371.10,389.00 371.60,389.00 372.10,389.00 372.60,389.01 373.10,389.01 373.60,389.01 374.10,389.01 374.60,389.01 375.10,389.01 375.60,389.01 376.10,389.01 376.60,389.01 377.10,389.01 377.60,389.01 378.10,389.01 378.60,389.01 379.10,389.01 379.60,389.01 380.10,389.01 380.60,389.01 381.10,389.01 381.60,389.01 382.10,389.01 382.60,389.01 383.10,389.01 383.60,389.01 384.10,389.01 384.60,389.01 385.10,389.01 385.60,389.02 386.10,389.02 386.60,389.02 387.10,389.02 387.60,389.02 388.10,389.02 388.60,389.02 389.10,389.02 389.60,389.02 390.10,389.02 390.60,389.02 391.10,389.02 391.60,389.02 392.10,389.03 392.60,389.03 393.10,389.03 393.60,389.03 394.10,389.03 394.60,389.03 395.10,389.03 395.60,389.03 396.10,389.04 396.60,389.04 397.10,389.04 397.60,389.04 398.10,389.04 398.60,389.04 399.10,389.05 399.60,389.05 400.10,389.05 400.60,389.05 401.10,389.05 401.60,389.06 402.10,389.06 402.60,389.06 403.10,389.06 403.60,389.07 404.10,389.07 404.60,389.07 405.10,389.08 405.60,389.08 406.10,389.08 406.60,389.09 407.10,389.09 407.60,389.09 408.10,389.10 408.60,389.10 409.10,389.11 409.60,389.11 410.10,389.11 410.60,389.12 411.10,389.12 411.60,389.13 412.10,389.14 412.60,389.14 413.10,389.15 413.60,389.15 414.10,389.16 414.60,389.17 415.10,389.17 415.60,389.18 416.10,389.19 416.60,389.19 417.10,389.20 417.60,389.21 418.10,389.22 418.60,389.23 419.10,389.23 419.60,389.24 420.10,389.25 420.60,389.26 421.10,389.27 421.60,389.27 422.10,389.28 422.60,389.29 423.10,389.29 423.60,389.29 424.10,389.30 424.60,389.30 425.10,389.29 425.60,389.29 426.10,389.28 426.60,389.27 427.10,389.25 427.60,389.22 428.10,389.19 428.60,389.15 429.10,389.10 429.60,389.04 430.10,388.96 430.60,388.87 431.10,388.76 431.60,388.63 432.10,388.48 432.60,388.30 433.10,388.09 433.60,387.86 434.10,387.58 434.60,387.27 435.10,386.92 435.60,386.52 436.10,386.07 436.60,385.56 437.10,385.00 437.60,384.37 438.10,383.68 438.60,382.92 439.10,382.08 439.60,381.17 440.10,380.18 440.60,379.11 441.10,377.95 441.60,376.71 442.10,375.38 442.60,373.97 443.10,372.48 443.60,370.91 444.10,369.27 444.60,367.55 445.10,365.77 445.60,363.93 446.10,362.04 446.60,360.11 447.10,358.16 447.60,356.18 448.10,354.19 448.60,352.22 449.10,350.26 449.60,348.34 450.10,346.47 450.60,344.66 451.10,342.93 451.60,341.30 452.10,339.78 452.60,338.38 453.10,337.12 453.60,336.00 454.10,335.04 454.60,334.26 455.10,333.64 455.60,333.22 456.10,332.98 456.60,332.93 457.10,333.08 457.60,333.41 458.10,333.94 458.60,334.65 459.10,335.54 459.60,336.61 460.10,337.83 460.60,339.21 461.10,340.73 461.60,342.37 462.10,344.13 462.60,345.99 463.10,347.93 463.60,349.94 464.10,352.00 464.60,354.11 465.10,356.24 465.60,358.38 466.10,360.51 466.60,362.63 467.10,364.73 467.60,366.78 468.10,368.78 468.60,370.73 469.10,372.62 469.60,374.43 470.10,376.17 470.60,377.82 471.10,379.39 471.60,380.88 472.10,382.28 472.60,383.60 473.10,384.82 473.60,385.96 474.10,387.02 474.60,388.00 475.10,388.90 475.60,389.73 476.10,390.49 476.60,391.17 477.10,391.80 477.60,392.37 478.10,392.88 478.60,393.35 479.10,393.76 479.60,394.14 480.10,394.47 480.60,394.77 481.10,395.04 481.60,395.28 482.10,395.49 482.60,395.68 483.10,395.85 483.60,396.00 484.10,396.13 484.60,396.25 485.10,396.35 485.60,396.45 486.10,396.53 486.60,396.61 487.10,396.68 487.60,396.74 488.10,396.80 488.60,396.85 489.10,396.90 489.60,396.94 490.10,396.98 490.60,397.02 491.10,397.06 491.60,397.09 492.10,397.12 492.60,397.15 493.10,397.18 493.60,397.20 494.10,397.23 494.60,397.25 495.10,397.27 495.60,397.29 496.10,397.31 496.60,397.33 497.10,397.35 497.60,397.37 498.10,397.39 498.60,397.40 499.10,397.42 499.60,397.43 500.10,397.45 500.60,397.46 501.10,397.47 501.60,397.49 502.10,397.50 502.60,397.51 503.10,397.52 503.60,397.53 504.10,397.54 504.60,397.55 505.10,397.56 505.60,397.57 506.10,397.58 506.60,397.59 507.10,397.60 507.60,397.61 508.10,397.62 508.60,397.62 509.10,397.63 509.60,397.64 510.10,397.64 510.60,397.65 511.10,397.66 511.60,397.66 512.10,397.67 512.60,397.67 513.10,397.68 513.60,397.68 514.10,397.69 514.60,397.69 515.10,397.70 515.60,397.70 516.10,397.70 516.60,397.71 517.10,397.71 517.60,397.72 518.10,397.72 518.60,397.72 519.10,397.73 519.60,397.73 520.10,397.73 520.60,397.73 521.10,397.74 521.60,397.74 522.10,397.74 522.60,397.74 523.10,397.75 523.60,397.75 524.10,397.75 524.60,397.75 525.10,397.75 525.60,397.76 526.10,397.76 526.60,397.76 527.10,397.76 527.60,397.76 528.10,397.76 528.60,397.77 529.10,397.77 529.60,397.77 530.10,397.77 530.60,397.77 531.10,397.77 531.60,397.77 532.10,397.77 532.60,397.78 533.10,397.78 533.60,397.78 534.10,397.78 534.60,397.78 535.10,397.78 535.60,397.78 536.10,397.78 536.60,397.78 537.10,397.78 537.60,397.78 538.10,397.78 538.60,397.79 539.10,397.79 539.60,397.79 540.10,397.79 540.60,397.79 541.10,397.79" fill="none" stroke="#d6a4ea" stroke-width="1"/>
<polyline points="368.10,389.00 368.60,389.00 369.10,389.00 369.60,389.00 370.10,389.00 370.60,389.00 371.10,389.00 371.60,389.00 372.10,389.00 372.60,389.01 373.10,389.01 373.60,389.01 374.10,389.01 374.60,389.01 375.10,389.01 375.60,389.01 376.10,389.01 376.60,389.01 377.10,389.01 377.60,389.01 378.10,389.01 378.60,389.01 379.10,389.01 379.60,389.01 380.10,389.01 380.60,389.01 381.10,389.01 381.60,389.01 382.10,389.01 382.60,389.01 383.10,389.01 383.60,389.01 384.10,389.01 384.60,389.01 385.10,389.01 385.60,389.02 386.10,389.02 386.60,389.02 387.10,389.02 387.60,389.02 388.10,389.02 388.60,389.02 389.10,389.02 389.60,389.02 390.10,389.02 390.60,389.02 391.10,389.02 391.60,389.02 392.10,389.03 392.60,389.03 393.10,389.03 393.60,389.03 394.10,389.03 394.60,389.03 395.10,389.03 395.60,389.03 396.10,389.04 396.60,389.04 397.10,389.04 397.60,389.04 398.10,389.04 398.60,389.04 399.10,389.05 399.60,389.05 400.10,389.05 400.60,389.05 401.10,389.05 401.60,389.06 402.10,389.06 402.60,389.06 403.10,389.06 403.60,389.07 404.10,389.07 404.60,389.07 405.10,389.08 405.60,389.08 406.10,389.08 406.60,389.09 407.10,389.09 407.60,389.09 408.10,389.10 408.60,389.10 409.10,389.11 409.60,389.11 410.10,389.11 410.60,389.12 411.10,389.12 411.60,389.13 412.10,389.14 412.60,389.14 413.10,389.15 413.60,389.15 414.10,389.16 414.60,389.17 415.10,389.17 415.60,389.18 416.10,389.19 416.60,389.19 417.10,389.20 417.60,389.21 418.10,389.22 418.60,389.23 419.10,389.23 419.60,389.24 420.10,389.25 420.60,389.26 421.10,389.27 421.60,389.27 422.10,389.28 422.60,389.29 423.10,389.29 423.60,389.29 424.10,389.30 424.60,389.30 425.10,389.29 425.60,389.29 426.10,389.28 426.60,389.27 427.10,389.25 427.60,389.22 428.10,389.19 428.60,389.15 429.10,389.10 429.60,389.04 430.10,388.96 430.60,388.87 431.10,388.76 431.60,388.63 432.10,388.48 432.60,388.30 433.10,388.09 433.60,387.86 434.10,387.58 434.60,387.27 435.10,386.92 435.60,386.52 436.10,386.07 436.60,385.56 437.10,385.00 437.60,384.37 438.10,383.68 438.60,382.92" fill="none" stroke="#a888ee" stroke-width="1.1"/>
<polyline points="420.10,389.26 420.60,389.27 421.10,389.28 421.60,389.29 422.10,389.31 422.60,389.32 423.10,389.33 423.60,389.34 424.10,389.36 424.60,389.37 425.10,389.39 425.60,389.40 426.10,389.42 426.60,389.44 427.10,389.46 427.60,389.47 428.10,389.49 428.60,389.51 429.10,389.53 429.60,389.55 430.10,389.58 430.60,389.60 431.10,389.62 431.60,389.65 432.10,389.67 432.60,389.70 433.10,389.72 433.60,389.75 434.10,389.78 434.60,389.81 435.10,389.84 435.60,389.87 436.10,389.90 436.60,389.93 437.10,389.96 437.60,389.99 438.10,390.02 438.60,390.05 439.10,390.08 439.60,390.11 440.10,390.14 440.60,390.17 441.10,390.20 441.60,390.22 442.10,390.24 442.60,390.26 443.10,390.27 443.60,390.27 444.10,390.27 444.60,390.26 445.10,390.24 445.60,390.21 446.10,390.16 446.60,390.10 447.10,390.02 447.60,389.92 448.10,389.80 448.60,389.65 449.10,389.47 449.60,389.26 450.10,389.01 450.60,388.72 451.10,388.38 451.60,387.99 452.10,387.55 452.60,387.05 453.10,386.47 453.60,385.83 454.10,385.11 454.60,384.30 455.10,383.40 455.60,382.41 456.10,381.31 456.60,380.10 457.10,378.79 457.60,377.35 458.10,375.78 458.60,374.09 459.10,372.27 459.60,370.31 460.10,368.21 460.60,365.97 461.10,363.60 461.60,361.09 462.10,358.44 462.60,355.66 463.10,352.75 463.60,349.72 464.10,346.58 464.60,343.33 465.10,340.00 465.60,336.58 466.10,333.09 466.60,329.56 467.10,325.99 467.60,322.41 468.10,318.82 468.60,315.27 469.10,311.75 469.60,308.30 470.10,304.94 470.60,301.69 471.10,298.57 471.60,295.61 472.10,292.82 472.60,290.22 473.10,287.84 473.60,285.70 474.10,283.80 474.60,282.16 475.10,280.81 475.60,279.74 476.10,278.98 476.60,278.51 477.10,278.36 477.60,278.52 478.10,278.98 478.60,279.75 479.10,280.83 479.60,282.19 480.10,283.84 480.60,285.76 481.10,287.93 481.60,290.35 482.10,292.99 482.60,295.83 483.10,298.85 483.60,302.04 484.10,305.36 484.60,308.81 485.10,312.35 485.60,315.96 486.10,319.63 486.60,323.33 487.10,327.03 487.60,330.73 488.10,334.41 488.60,338.04 489.10,341.60 489.60,345.10 490.10,348.50 490.60,351.80 491.10,355.00 491.60,358.07 492.10,361.02 492.60,363.84 493.10,366.53 493.60,369.07 494.10,371.48 494.60,373.74 495.10,375.87 495.60,377.86 496.10,379.71 496.60,381.43 497.10,383.03 497.60,384.50 498.10,385.85 498.60,387.10 499.10,388.23 499.60,389.27 500.10,390.21 500.60,391.06 501.10,391.83 501.60,392.52 502.10,393.14 502.60,393.70 503.10,394.20 503.60,394.64 504.10,395.03 504.60,395.38 505.10,395.69 505.60,395.96 506.10,396.19 506.60,396.40 507.10,396.58 507.60,396.74 508.10,396.88 508.60,397.00 509.10,397.10 509.60,397.19 510.10,397.27 510.60,397.34 511.10,397.39 511.60,397.44 512.10,397.49 512.60,397.52 513.10,397.55 513.60,397.58 514.10,397.60 514.60,397.62 515.10,397.64 515.60,397.65 516.10,397.67 516.60,397.68 517.10,397.69 517.60,397.70 518.10,397.70 518.60,397.71 519.10,397.71 519.60,397.72 520.10,397.72 520.60,397.73 521.10,397.73 521.60,397.74 522.10,397.74 522.60,397.74 523.10,397.74 523.60,397.75 524.10,397.75 524.60,397.75 525.10,397.75 525.60,397.76 526.10,397.76 526.60,397.76 527.10,397.76 527.60,397.76 528.10,397.76 528.60,397.77 529.10,397.77 529.60,397.77 530.10,397.77 530.60,397.77 531.10,397.77 531.60,397.77 532.10,397.77 532.60,397.78 533.10,397.78 533.60,397.78 534.10,397.78 534.60,397.78 535.10,397.78 535.60,397.78 536.10,397.78 536.60,397.78 537.10,397.78 537.60,397.78 538.10,397.78 538.60,397.79 539.10,397.79 539.60,397.79 540.10,397.79 540.60,397.79 541.10,397.79" fill="none" stroke="url(#sb)" stroke-width="1.2"/>
<polyline points="312.10,389.00 312.60,389.00 313.10,389.00 313.60,389.00 314.10,389.00 314.60,389.00 315.10,389.00 315.60,389.00 316.10,389.00 316.60,389.00 317.10,389.00 317.60,389.00 318.10,389.00 318.60,389.00 319.10,389.00 319.60,389.00 320.10,389.00 320.60,389.00 321.10,389.00 321.60,389.00 322.10,389.00 322.60,389.00 323.10,389.00 323.60,389.00 324.10,389.00 324.60,389.00 325.10,389.00 325.60,389.00 326.10,389.00 326.60,389.00 327.10,389.00 327.60,389.00 328.10,389.00 328.60,389.00 329.10,389.00 329.60,389.00 330.10,389.00 330.60,389.00 331.10,389.00 331.60,389.00 332.10,389.00 332.60,389.00 333.10,389.00 333.60,389.00 334.10,389.00 334.60,389.00 335.10,389.00 335.60,389.00 336.10,389.00 336.60,389.00 337.10,389.00 337.60,389.00 338.10,389.00 338.60,389.00 339.10,389.00 339.60,389.00 340.10,389.00 340.60,389.00 341.10,389.00 341.60,389.00 342.10,389.00 342.60,389.00 343.10,389.00 343.60,389.00 344.10,389.00 344.60,389.00 345.10,388.99 345.60,388.99 346.10,388.99 346.60,388.99 347.10,388.99 347.60,388.99 348.10,388.99 348.60,388.99 349.10,388.99 349.60,388.98 350.10,388.98 350.60,388.98 351.10,388.98 351.60,388.98 352.10,388.97 352.60,388.97 353.10,388.97 353.60,388.97 354.10,388.96 354.60,388.96 355.10,388.95 355.60,388.95 356.10,388.94 356.60,388.94 357.10,388.93 357.60,388.92 358.10,388.92 358.60,388.91 359.10,388.90 359.60,388.89 360.10,388.88 360.60,388.87 361.10,388.86 361.60,388.85 362.10,388.83 362.60,388.82 363.10,388.80 363.60,388.79 364.10,388.77 364.60,388.75 365.10,388.73 365.60,388.71 366.10,388.68 366.60,388.66 367.10,388.63 367.60,388.60 368.10,388.57 368.60,388.53 369.10,388.50 369.60,388.46 370.10,388.42 370.60,388.38 371.10,388.34 371.60,388.29 372.10,388.24 372.60,388.18 373.10,388.13 373.60,388.07 374.10,388.01 374.60,387.94 375.10,387.87 375.60,387.80 376.10,387.72 376.60,387.64 377.10,387.56 377.60,387.47 378.10,387.38 378.60,387.28 379.10,387.18 379.60,387.08 380.10,386.97 380.60,386.86 381.10,386.74 381.60,386.62 382.10,386.49 382.60,386.36 383.10,386.23 383.60,386.09 384.10,385.94 384.60,385.79 385.10,385.64 385.60,385.48 386.10,385.32 386.60,385.15 387.10,384.98 387.60,384.80 388.10,384.62 388.60,384.44 389.10,384.25 389.60,384.06 390.10,383.87 390.60,383.67 391.10,383.47 391.60,383.27 392.10,383.06 392.60,382.85 393.10,382.64 393.60,382.43 394.10,382.21 394.60,382.00 395.10,381.78 395.60,381.57 396.10,381.35 396.60,381.13 397.10,380.92 397.60,380.70 398.10,380.49 398.60,380.28 399.10,380.06 399.60,379.86 400.10,379.65 400.60,379.45 401.10,379.25 401.60,379.06 402.10,378.87 402.60,378.68 403.10,378.50 403.60,378.33 404.10,378.16 404.60,378.00 405.10,377.85 405.60,377.70 406.10,377.56 406.60,377.43 407.10,377.30 407.60,377.19 408.10,377.08 408.60,376.99 409.10,376.90 409.60,376.82 410.10,376.75 410.60,376.69 411.10,376.64 411.60,376.60 412.10,376.58 412.60,376.56 413.10,376.55 413.60,376.55 414.10,376.57 414.60,376.59 415.10,376.63 415.60,376.67 416.10,376.73 416.60,376.79 417.10,376.87 417.60,376.95 418.10,377.05 418.60,377.15 419.10,377.27 419.60,377.39 420.10,377.53 420.60,377.67 421.10,377.82 421.60,377.97 422.10,378.14 422.60,378.31 423.10,378.49 423.60,378.68 424.10,378.87 424.60,379.07 425.10,379.27 425.60,379.48 426.10,379.70 426.60,379.92 427.10,380.14 427.60,380.37 428.10,380.60 428.60,380.83 429.10,381.06 429.60,381.30 430.10,381.54 430.60,381.78 431.10,382.02 431.60,382.27 432.10,382.51 432.60,382.75 433.10,383.00 433.60,383.24 434.10,383.48 434.60,383.72 435.10,383.96 435.60,384.20 436.10,384.44 436.60,384.67 437.10,384.91 437.60,385.14 438.10,385.37 438.60,385.59 439.10,385.81 439.60,386.04 440.10,386.25 440.60,386.47 441.10,386.68 441.60,386.89 442.10,387.09 442.60,387.30 443.10,387.50 443.60,387.69 444.10,387.88 444.60,388.07 445.10,388.26 445.60,388.44 446.10,388.63 446.60,388.80 447.10,388.98 447.60,389.15 448.10,389.32 448.60,389.48 449.10,389.65 449.60,389.81 450.10,389.97 450.60,390.12 451.10,390.28 451.60,390.43 452.10,390.57 452.60,390.72 453.10,390.87 453.60,391.01 454.10,391.15 454.60,391.29 455.10,391.42 455.60,391.56 456.10,391.69 456.60,391.82 457.10,391.95 457.60,392.08 458.10,392.20 458.60,392.33 459.10,392.45 459.60,392.57 460.10,392.69 460.60,392.81 461.10,392.92 461.60,393.04 462.10,393.15 462.60,393.26 463.10,393.37 463.60,393.48 464.10,393.59 464.60,393.70 465.10,393.80 465.60,393.91 466.10,394.01 466.60,394.11 467.10,394.21 467.60,394.30 468.10,394.40 468.60,394.49 469.10,394.58 469.60,394.67 470.10,394.76 470.60,394.85 471.10,394.94 471.60,395.02 472.10,395.10 472.60,395.18 473.10,395.26 473.60,395.34 474.10,395.42 474.60,395.49 475.10,395.56 475.60,395.63 476.10,395.70 476.60,395.77 477.10,395.84 477.60,395.90 478.10,395.96 478.60,396.02 479.10,396.08 479.60,396.14 480.10,396.20 480.60,396.25 481.10,396.30 481.60,396.36 482.10,396.41 482.60,396.45 483.10,396.50 483.60,396.55 484.10,396.59 484.60,396.64 485.10,396.68 485.60,396.72 486.10,396.76 486.60,396.79 487.10,396.83 487.60,396.87 488.10,396.90 488.60,396.93 489.10,396.97 489.60,397.00 490.10,397.03 490.60,397.06 491.10,397.08 491.60,397.11 492.10,397.14 492.60,397.16 493.10,397.19 493.60,397.21 494.10,397.23 494.60,397.25 495.10,397.28 495.60,397.30 496.10,397.31 496.60,397.33 497.10,397.35 497.60,397.37 498.10,397.39 498.60,397.40 499.10,397.42 499.60,397.43 500.10,397.45 500.60,397.46 501.10,397.47 501.60,397.49 502.10,397.50 502.60,397.51 503.10,397.52 503.60,397.53 504.10,397.54 504.60,397.55 505.10,397.56 505.60,397.57 506.10,397.58 506.60,397.59 507.10,397.60 507.60,397.61 508.10,397.62 508.60,397.62 509.10,397.63 509.60,397.64 510.10,397.64 510.60,397.65 511.10,397.66 511.60,397.66 512.10,397.67 512.60,397.67 513.10,397.68 513.60,397.68 514.10,397.69 514.60,397.69 515.10,397.70 515.60,397.70 516.10,397.70 516.60,397.71 517.10,397.71 517.60,397.72 518.10,397.72 518.60,397.72 519.10,397.73 519.60,397.73 520.10,397.73 520.60,397.73 521.10,397.74 521.60,397.74 522.10,397.74 522.60,397.74 523.10,397.75 523.60,397.75 524.10,397.75 524.60,397.75 525.10,397.75 525.60,397.76 526.10,397.76 526.60,397.76 527.10,397.76 527.60,397.76 528.10,397.76 528.60,397.77 529.10,397.77 529.60,397.77 530.10,397.77 530.60,397.77 531.10,397.77 531.60,397.77 532.10,397.77 532.60,397.78 533.10,397.78 533.60,397.78 534.10,397.78 534.60,397.78 535.10,397.78 535.60,397.78 536.10,397.78 536.60,397.78 537.10,397.78 537.60,397.78 538.10,397.78 538.60,397.79 539.10,397.79 539.60,397.79 540.10,397.79 540.60,397.79 541.10,397.79" fill="none" stroke="#a0cc78" stroke-width="1.1"/>
<polyline points="308.10,389.00 308.60,389.00 309.10,389.00 309.60,389.00 310.10,389.00 310.60,389.00 311.10,389.00 311.60,389.00 312.10,389.00 312.60,389.00 313.10,389.00 313.60,389.00 314.10,389.00 314.60,389.00 315.10,389.00 315.60,389.00 316.10,389.00 316.60,389.00 317.10,389.00 317.60,389.00 318.10,389.00 318.60,389.00 319.10,389.00 319.60,389.00 320.10,389.00 320.60,389.00 321.10,389.00 321.60,389.00 322.10,389.00 322.60,389.00 323.10,389.00 323.60,389.00 324.10,389.00 324.60,389.00 325.10,389.00 325.60,389.00 326.10,389.00 326.60,389.00 327.10,389.00 327.60,389.00 328.10,389.00 328.60,389.00 329.10,389.00 329.60,389.00 330.10,389.00 330.60,389.00 331.10,389.00 331.60,389.00 332.10,389.00 332.60,389.00 333.10,389.00 333.60,389.00 334.10,389.00 334.60,389.00 335.10,389.00 335.60,389.00 336.10,389.00 336.60,389.00 337.10,389.00 337.60,389.00 338.10,389.00 338.60,389.00 339.10,389.00 339.60,389.00 340.10,389.00 340.60,389.00 341.10,389.00 341.60,389.00 342.10,389.00 342.60,389.00 343.10,389.00 343.60,389.00 344.10,389.00 344.60,389.00 345.10,389.00 345.60,389.00 346.10,389.00 346.60,389.00 347.10,389.00 347.60,389.00 348.10,389.00 348.60,389.00 349.10,389.00 349.60,389.00 350.10,388.99 350.60,388.99 351.10,388.99 351.60,388.99 352.10,388.99 352.60,388.99 353.10,388.99 353.60,388.98 354.10,388.98 354.60,388.98 355.10,388.98 355.60,388.97 356.10,388.97 356.60,388.96 357.10,388.96 357.60,388.95 358.10,388.95 358.60,388.94 359.10,388.93 359.60,388.92 360.10,388.91 360.60,388.90 361.10,388.89 361.60,388.88 362.10,388.86 362.60,388.85 363.10,388.83 363.60,388.81 364.10,388.79 364.60,388.77 365.10,388.74 365.60,388.71 366.10,388.68 366.60,388.65 367.10,388.61 367.60,388.58 368.10,388.53 368.60,388.49 369.10,388.44 369.60,388.39 370.10,388.33 370.60,388.27 371.10,388.21 371.60,388.14 372.10,388.07 372.60,387.99 373.10,387.91 373.60,387.83 374.10,387.74 374.60,387.64 375.10,387.54 375.60,387.44 376.10,387.33 376.60,387.21 377.10,387.09 377.60,386.97 378.10,386.84 378.60,386.71 379.10,386.57 379.60,386.43 380.10,386.28 380.60,386.13 381.10,385.98 381.60,385.83 382.10,385.67 382.60,385.51 383.10,385.35 383.60,385.18 384.10,385.02 384.60,384.86 385.10,384.69 385.60,384.53 386.10,384.37 386.60,384.21 387.10,384.05 387.60,383.89 388.10,383.74 388.60,383.59 389.10,383.45 389.60,383.31 390.10,383.18 390.60,383.06 391.10,382.94 391.60,382.83 392.10,382.73 392.60,382.64 393.10,382.55 393.60,382.48 394.10,382.41 394.60,382.36 395.10,382.31 395.60,382.28 396.10,382.25 396.60,382.24 397.10,382.24 397.60,382.25 398.10,382.27 398.60,382.30 399.10,382.34 399.60,382.39 400.10,382.46 400.60,382.53 401.10,382.61 401.60,382.70 402.10,382.80 402.60,382.91 403.10,383.03 403.60,383.15 404.10,383.28 404.60,383.42 405.10,383.56 405.60,383.71 406.10,383.87 406.60,384.02 407.10,384.18 407.60,384.35 408.10,384.51 408.60,384.68 409.10,384.85 409.60,385.02 410.10,385.19 410.60,385.36 411.10,385.53 411.60,385.69 412.10,385.86 412.60,386.02 413.10,386.18 413.60,386.34 414.10,386.49 414.60,386.64 415.10,386.79 415.60,386.93 416.10,387.07 416.60,387.21 417.10,387.34 417.60,387.46 418.10,387.59 418.60,387.70 419.10,387.82 419.60,387.92 420.10,388.03 420.60,388.13 421.10,388.22 421.60,388.31 422.10,388.40 422.60,388.48 423.10,388.56 423.60,388.64 424.10,388.71 424.60,388.78 425.10,388.85 425.60,388.91 426.10,388.97 426.60,389.03 427.10,389.08 427.60,389.13 428.10,389.18 428.60,389.23 429.10,389.28 429.60,389.33 430.10,389.37 430.60,389.42 431.10,389.46 431.60,389.50 432.10,389.54 432.60,389.58 433.10,389.62 433.60,389.66 434.10,389.70 434.60,389.74 435.10,389.78 435.60,389.82 436.10,389.86 436.60,389.90 437.10,389.94 437.60,389.98 438.10,390.03 438.60,390.07 439.10,390.11 439.60,390.16 440.10,390.20 440.60,390.25 441.10,390.30 441.60,390.35 442.10,390.40 442.60,390.45 443.10,390.50 443.60,390.56 444.10,390.61 444.60,390.67 445.10,390.73 445.60,390.78 446.10,390.84 446.60,390.91 447.10,390.97 447.60,391.04 448.10,391.10 448.60,391.17 449.10,391.24 449.60,391.31 450.10,391.38 450.60,391.45 451.10,391.53 451.60,391.60 452.10,391.68 452.60,391.76 453.10,391.84 453.60,391.92 454.10,392.00 454.60,392.08 455.10,392.17 455.60,392.25 456.10,392.34 456.60,392.43 457.10,392.51 457.60,392.60 458.10,392.69 458.60,392.78 459.10,392.87 459.60,392.96 460.10,393.05 460.60,393.14 461.10,393.24 461.60,393.33 462.10,393.42 462.60,393.51 463.10,393.60 463.60,393.69 464.10,393.78 464.60,393.87 465.10,393.97 465.60,394.06 466.10,394.14 466.60,394.23 467.10,394.32 467.60,394.41 468.10,394.49 468.60,394.58 469.10,394.66 469.60,394.75 470.10,394.83 470.60,394.91 471.10,394.99 471.60,395.07 472.10,395.15 472.60,395.23 473.10,395.30 473.60,395.38 474.10,395.45 474.60,395.52 475.10,395.59 475.60,395.66 476.10,395.72 476.60,395.79 477.10,395.85 477.60,395.92 478.10,395.98 478.60,396.04 479.10,396.09 479.60,396.15 480.10,396.21 480.60,396.26 481.10,396.31 481.60,396.36 482.10,396.41 482.60,396.46 483.10,396.51 483.60,396.55 484.10,396.60 484.60,396.64 485.10,396.68 485.60,396.72 486.10,396.76 486.60,396.80 487.10,396.83 487.60,396.87 488.10,396.90 488.60,396.94 489.10,396.97 489.60,397.00 490.10,397.03 490.60,397.06 491.10,397.08 491.60,397.11 492.10,397.14 492.60,397.16 493.10,397.19 493.60,397.21 494.10,397.23 494.60,397.25 495.10,397.28 495.60,397.30 496.10,397.31 496.60,397.33 497.10,397.35 497.60,397.37 498.10,397.39 498.60,397.40 499.10,397.42 499.60,397.43 500.10,397.45 500.60,397.46 501.10,397.47 501.60,397.49 502.10,397.50 502.60,397.51 503.10,397.52 503.60,397.53 504.10,397.54 504.60,397.55 505.10,397.56 505.60,397.57 506.10,397.58 506.60,397.59 507.10,397.60 507.60,397.61 508.10,397.62 508.60,397.62 509.10,397.63 509.60,397.64 510.10,397.64 510.60,397.65 511.10,397.66 511.60,397.66 512.10,397.67 512.60,397.67 513.10,397.68 513.60,397.68 514.10,397.69 514.60,397.69 515.10,397.70 515.60,397.70 516.10,397.70 516.60,397.71 517.10,397.71 517.60,397.72 518.10,397.72 518.60,397.72 519.10,397.73 519.60,397.73 520.10,397.73 520.60,397.73 521.10,397.74 521.60,397.74 522.10,397.74 522.60,397.74 523.10,397.75 523.60,397.75 524.10,397.75 524.60,397.75 525.10,397.75 525.60,397.76 526.10,397.76 526.60,397.76 527.10,397.76 527.60,397.76 528.10,397.76 528.60,397.77 529.10,397.77 529.60,397.77 530.10,397.77 530.60,397.77 531.10,397.77 531.60,397.77 532.10,397.77 532.60,397.78 533.10,397.78 533.60,397.78 534.10,397.78 534.60,397.78 535.10,397.78 535.60,397.78 536.10,397.78 536.60,397.78 537.10,397.78 537.60,397.78 538.10,397.78 538.60,397.79 539.10,397.79 539.60,397.79 540.10,397.79 540.60,397.79 541.10,397.79" fill="none" stroke="#d4c070" stroke-width="1.2"/>
<polyline points="305.50,388.60 305.90,388.69 306.31,388.77 306.71,388.82 307.11,388.92 307.51,388.81 307.92,388.94 308.32,388.41 308.72,388.69 309.12,388.99 309.53,388.83 309.93,388.99 310.33,388.53 310.74,388.76 311.14,388.64 311.54,388.83 311.94,388.87 312.35,388.54 312.75,388.68 313.15,388.73 313.56,389.13 313.96,389.05 314.36,388.70 314.76,389.10 315.17,388.72 315.57,389.02 315.97,388.74 316.38,388.68 316.78,389.21 317.18,388.83 317.58,388.85 317.99,389.32 318.39,389.27 318.79,388.93 319.19,389.35 319.60,389.11 320.00,389.10 320.41,389.21 320.82,388.93 321.22,389.38 321.63,389.24 322.04,389.41 322.45,389.37 322.86,389.02 323.26,389.06 323.67,388.95 324.08,388.94 324.49,388.90 324.89,389.04 325.30,389.23 325.71,388.88 326.12,389.29 326.53,389.09 326.93,389.08 327.34,389.39 327.75,389.19 328.16,389.09 328.57,389.20 328.97,389.34 329.38,388.96 329.79,389.51 330.20,388.95 330.61,389.39 331.01,389.45 331.42,388.96 331.83,389.43 332.24,389.18 332.64,389.31 333.05,388.97 333.46,389.00 333.87,389.09 334.28,389.56 334.68,389.11 335.09,389.45 335.50,389.30 335.90,389.55 336.31,389.55 336.71,389.18 337.11,389.18 337.51,389.27 337.92,389.42 338.32,389.01 338.72,389.38 339.12,389.40 339.53,389.43 339.93,388.93 340.33,389.47 340.74,388.95 341.14,389.09 341.54,389.24 341.94,389.42 342.35,389.06 342.75,389.40 343.15,389.17 343.56,389.02 343.96,389.02 344.36,388.92 344.76,388.86 345.17,388.89 345.57,389.21 345.97,389.38 346.38,388.87 346.78,388.80 347.18,389.35 347.58,389.07 347.99,388.99 348.39,388.88 348.79,389.08 349.19,389.21 349.60,388.98 350.00,389.00 350.40,388.94 350.81,388.72 351.21,389.22 351.62,388.68 352.02,388.95 352.43,389.15 352.83,388.72 353.23,389.07 353.64,389.19 354.04,388.99 354.45,389.08 354.85,388.66 355.26,388.85 355.66,388.67 356.07,389.08 356.47,388.74 356.87,388.82 357.28,389.14 357.68,389.05 358.09,389.11 358.49,388.79 358.90,388.80 359.30,388.94 359.70,388.78 360.11,388.66 360.51,388.72 360.92,388.55 361.32,388.68 361.73,389.04 362.13,389.02 362.53,388.81 362.94,388.72 363.34,388.62 363.75,388.46 364.15,388.56 364.56,388.86 364.96,388.90 365.37,388.59 365.77,388.83 366.17,388.82 366.58,388.76 366.98,388.73 367.39,388.78 367.79,388.54 368.20,388.73 368.60,388.60 369.04,388.26 369.48,388.17 369.92,388.13 370.36,387.87 370.80,387.43 371.24,387.61 371.68,387.22 372.12,386.97 372.56,386.42 373.00,386.50 373.42,386.30 373.83,385.90 374.25,385.93 374.67,385.58 375.08,385.57 375.50,385.24 375.92,385.10 376.33,384.61 376.75,384.56 377.17,384.39 377.58,384.22 378.00,383.80 378.42,383.43 378.84,383.45 379.25,383.19 379.67,382.81 380.09,382.70 380.51,382.42 380.92,381.88 381.34,381.61 381.76,381.11 382.18,381.24 382.59,381.02 383.01,380.47 383.43,380.32 383.85,380.06 384.26,379.79 384.68,379.18 385.10,379.10 385.51,379.06 385.93,378.74 386.34,378.59 386.75,378.24 387.17,378.15 387.58,378.04 387.99,377.75 388.40,377.60 388.82,376.98 389.23,376.85 389.64,376.82 390.06,376.74 390.47,376.27 390.88,376.35 391.30,376.11 391.71,375.56 392.12,375.61 392.53,375.26 392.95,374.95 393.36,374.79 393.77,374.70 394.19,374.41 394.60,374.40 395.02,373.95 395.43,373.58 395.85,373.57 396.26,373.25 396.68,373.12 397.09,372.84 397.51,372.36 397.92,372.49 398.34,371.68 398.75,371.65 399.17,371.31 399.58,371.12 400.00,370.90 400.43,370.55 400.87,370.87 401.30,370.47 401.73,370.15 402.17,370.38 402.60,369.96 403.03,370.11 403.47,369.87 403.90,369.90 404.33,370.01 404.77,369.81 405.20,369.50 405.60,369.62 406.00,370.02 406.40,370.09 406.80,370.09 407.20,370.12 407.60,370.56 408.00,370.70 408.40,371.11 408.80,371.28 409.20,371.23 409.60,371.24 410.00,371.50 410.41,371.95 410.82,371.62 411.23,371.89 411.64,372.38 412.05,372.61 412.45,372.54 412.86,373.04 413.27,373.41 413.68,373.31 414.09,373.55 414.50,373.80 414.92,373.84 415.35,374.09 415.77,374.71 416.19,374.56 416.62,375.12 417.04,375.29 417.46,375.31 417.88,375.32 418.31,375.96 418.73,375.87 419.15,376.03 419.58,376.18 420.00,376.50 420.42,376.92 420.85,376.76 421.27,376.76 421.69,377.01 422.12,376.93 422.54,377.36 422.96,377.38 423.38,377.42 423.81,377.85 424.23,378.00 424.65,377.65 425.08,378.09 425.50,378.20 425.94,377.91 426.38,378.16 426.81,377.92 427.25,377.45 427.69,377.31 428.12,377.09 428.56,377.44 429.00,377.00 429.43,376.52 429.86,376.35 430.29,375.91 430.71,375.66 431.14,375.28 431.57,375.00 432.00,374.50 432.41,373.96 432.83,374.04 433.24,373.46 433.66,373.29 434.07,372.87 434.49,372.54 434.90,372.37 435.31,372.02 435.73,371.65 436.14,371.58 436.56,371.18 436.97,370.54 437.39,370.36 437.80,370.20 438.25,369.56 438.70,369.22 439.15,368.58 439.60,367.76 440.05,366.83 440.50,366.50 440.94,365.95 441.39,365.03 441.83,364.40 442.27,363.77 442.71,363.01 443.16,362.20 443.60,361.50 444.03,360.31 444.45,358.56 444.88,357.12 445.30,355.96 445.73,354.13 446.15,352.75 446.57,351.64 447.00,350.00 447.42,347.74 447.83,346.20 448.25,344.12 448.67,341.96 449.08,339.87 449.50,338.00 449.90,336.77 450.30,335.45 450.70,333.59 451.10,332.39 451.50,331.00 451.92,329.51 452.34,327.96 452.76,326.34 453.18,324.71 453.60,323.40 454.02,321.07 454.44,318.83 454.86,316.00 455.28,313.72 455.70,311.50 456.18,310.42 456.65,309.13 457.12,307.77 457.60,306.40 458.08,305.38 458.56,305.05 459.04,304.47 459.52,303.74 460.00,302.70 460.43,302.50 460.87,301.80 461.30,301.96 461.73,301.26 462.17,301.20 462.60,300.80 463.04,300.80 463.49,300.38 463.93,299.77 464.37,299.59 464.81,299.69 465.26,298.96 465.70,298.90 466.12,297.92 466.53,296.75 466.95,295.55 467.37,294.77 467.78,293.38 468.20,292.60 468.62,290.70 469.03,289.19 469.45,287.34 469.87,285.67 470.28,284.31 470.70,282.60 471.16,281.32 471.61,279.97 472.07,278.09 472.53,276.84 472.99,275.35 473.44,274.09 473.90,272.60 474.32,271.57 474.75,270.81 475.18,269.45 475.60,268.23 476.02,267.59 476.45,266.24 476.88,265.50 477.30,264.40 477.71,265.20 478.13,266.25 478.54,266.83 478.96,267.67 479.37,268.26 479.79,269.23 480.20,270.00 480.65,273.33 481.10,277.10 481.55,280.44 482.00,283.90 482.43,288.90 482.87,293.90 483.30,298.90 483.90,303.30 484.50,307.70 484.90,310.34 485.30,313.26 485.70,316.20 486.10,319.28 486.50,322.00 486.90,324.81 487.30,328.13 487.70,331.09 488.10,333.75 488.50,337.00 488.95,340.45 489.40,343.45 489.85,346.82 490.30,350.40 490.74,353.18 491.18,355.68 491.62,358.79 492.06,361.27 492.50,364.00 492.92,365.89 493.33,368.18 493.75,369.72 494.17,372.14 494.58,373.73 495.00,376.00 495.42,377.21 495.83,379.10 496.25,380.36 496.67,381.50 497.08,382.85 497.50,384.50 497.90,385.52 498.30,386.08 498.70,386.91 499.10,387.24 499.50,388.20 499.93,388.75 500.36,389.06 500.79,389.46 501.21,389.99 501.64,390.63 502.07,390.94 502.50,391.50 502.93,391.70 503.37,391.82 503.80,392.50 504.23,392.66 504.67,393.02 505.10,393.06 505.53,393.58 505.97,393.64 506.40,393.90 506.80,394.06 507.20,394.14 507.60,394.34 508.00,394.24 508.40,394.16 508.80,394.22 509.20,394.42 509.60,394.42 510.00,395.03 510.40,394.89 510.80,395.16 511.20,394.80 511.60,395.18 512.00,395.30 512.40,395.57 512.80,395.45 513.20,395.38 513.60,395.44 514.00,395.26 514.40,395.33 514.80,395.38 515.20,395.54 515.60,395.59 516.00,395.93 516.40,395.53 516.80,395.63 517.20,395.69 517.60,395.66 518.00,395.77 518.40,395.78 518.80,395.97 519.20,395.74 519.60,396.31 520.00,396.10 520.40,396.05 520.80,396.43 521.20,396.31 521.60,396.33 522.00,396.24 522.40,396.56 522.80,396.09 523.20,396.46 523.60,396.26 524.00,396.52 524.40,396.59 524.80,396.28 525.20,396.34 525.60,396.26 526.00,396.42 526.40,396.36 526.80,396.58 527.20,396.96 527.60,396.63 528.00,396.63 528.40,396.75 528.80,396.67 529.20,396.98 529.60,397.00 530.00,396.90 530.40,396.74 530.80,396.82 531.20,397.12 531.60,397.32 532.00,397.19 532.40,397.10 532.80,397.47 533.20,396.92 533.60,397.00 534.00,397.47 534.40,397.29 534.80,397.11 535.20,397.45 535.60,397.75 536.00,397.51 536.40,397.45 536.80,397.34 537.20,397.36 537.60,397.90 538.00,397.70 538.40,397.73 538.80,398.04 539.20,397.54 539.60,397.70 540.00,397.62 540.40,397.86 540.80,397.70 541.20,398.00" fill="none" stroke="#9a9a9a" stroke-width="1.0" stroke-dasharray="2.4,1.0"/>
<path d="M371.79,387.15h0.02 M373.09,386.45h0.02 M374.39,385.80h0.02 M375.69,385.17h0.02 M376.99,384.46h0.02 M378.29,383.54h0.02 M379.59,382.87h0.02 M380.89,381.91h0.02 M382.19,381.23h0.02 M383.49,380.28h0.02 M384.79,379.16h0.02 M386.09,378.68h0.02 M387.39,378.09h0.02 M388.69,377.15h0.02 M389.99,376.75h0.02 M391.29,376.11h0.02 M392.59,375.21h0.02 M393.89,374.61h0.02 M395.19,373.79h0.02 M396.49,373.18h0.02 M397.79,372.45h0.02 M399.09,371.36h0.02 M400.39,370.58h0.02 M401.69,370.18h0.02 M402.99,370.10h0.02 M404.29,370.00h0.02 M405.59,369.62h0.02 M406.89,370.10h0.02 M408.19,370.91h0.02 M409.49,371.24h0.02 M410.79,371.63h0.02 M412.09,372.60h0.02 M413.39,373.38h0.02 M414.69,373.82h0.02 M415.99,374.63h0.02 M417.29,375.30h0.02 M418.59,375.90h0.02 M419.89,376.43h0.02 M421.19,376.76h0.02 M422.49,377.32h0.02 M423.79,377.84h0.02 M425.09,378.09h0.02 M426.39,378.15h0.02 M427.69,377.30h0.02 M428.99,377.00h0.02 M430.29,375.90h0.02 M431.59,374.97h0.02 M432.89,373.94h0.02 M434.19,372.76h0.02 M435.49,371.86h0.02 M436.79,370.80h0.02 M438.09,369.77h0.02 M439.39,368.13h0.02 M440.69,366.25h0.02 M441.99,364.16h0.02 M443.29,361.98h0.02 M444.59,358.05h0.02 M445.89,353.56h0.02 M447.19,348.92h0.02 M448.49,342.82h0.02 M449.79,337.08h0.02 M451.09,332.39h0.02 M452.39,327.73h0.02 M453.69,322.85h0.02 M454.99,315.24h0.02 M456.29,310.08h0.02 M457.59,306.40h0.02 M458.89,304.64h0.02 M460.19,302.61h0.02 M461.49,301.64h0.02 M462.79,300.80h0.02 M464.09,299.70h0.02 M465.39,298.94h0.02 M466.69,296.27h0.02 M467.99,292.97h0.02 M469.29,288.01h0.02 M470.59,283.01h0.02 M471.89,278.80h0.02 M473.19,274.76h0.02 M474.49,271.26h0.02 M475.79,267.93h0.02 M477.09,264.92h0.02 M478.39,266.63h0.02 M479.69,269.03h0.02 M480.99,276.26h0.02 M482.29,287.36h0.02 M483.59,301.10h0.02 M484.89,310.34h0.02 M486.19,319.96h0.02 M487.49,329.61h0.02 M488.79,339.30h0.02 M490.09,348.81h0.02 M491.39,357.23h0.02 M492.69,364.91h0.02 M493.99,371.17h0.02 M495.29,376.87h0.02 M496.59,381.32h0.02 M497.89,385.52h0.02 M499.19,387.48h0.02 M500.49,389.19h0.02 M501.79,390.74h0.02 M503.09,391.74h0.02 M504.39,392.79h0.02 M505.69,393.60h0.02 M506.99,394.10h0.02 M508.29,394.18h0.02 M509.59,394.42h0.02 M510.89,395.07h0.02 M512.19,395.44h0.02 M513.49,395.42h0.02 M514.79,395.38h0.02 M516.09,395.83h0.02 M517.39,395.67h0.02 M518.69,395.92h0.02 M519.99,396.10h0.02 M521.29,396.31h0.02 M522.59,396.33h0.02 M523.89,396.46h0.02 M525.19,396.34h0.02 M526.49,396.42h0.02 M527.79,396.63h0.02 M529.09,396.90h0.02 M530.39,396.74h0.02 M531.69,397.29h0.02 M532.99,397.19h0.02 M534.29,397.33h0.02 M535.59,397.75h0.02 M536.89,397.34h0.02 M538.19,397.72h0.02 M539.49,397.66h0.02 M540.79,397.70h0.02" stroke="#262626" stroke-width="1.6" stroke-linecap="round" fill="none"/>
<line x1="309" y1="254.8" x2="328" y2="254.8" stroke="#999" stroke-width="1.2" stroke-dasharray="3,2"/>
<circle cx="318.6" cy="254.8" r="0.8" fill="#333"/>
<rect x="309.5" y="262.2" width="22" height="10.8" fill="url(#lgb)" stroke="#98a4bc" stroke-width="0.7"/>
<rect x="309.5" y="276.6" width="22" height="10.8" fill="url(#lgp)" stroke="#e2d8ea" stroke-width="0.6"/>
<line x1="309" y1="296.8" x2="331.5" y2="296.8" stroke="#b8d890" stroke-width="1"/>
<line x1="309" y1="310.6" x2="331.5" y2="310.6" stroke="#d4c47a" stroke-width="1"/>
<text x="332.3" y="258.6" font-size="10" text-anchor="start" fill="#000" textLength="77.9" lengthAdjust="spacingAndGlyphs" >Experimental data</text>
<text x="334.5" y="271.4" font-size="10">2p<tspan font-size="7" dy="2.2">3/2</tspan><tspan dy="-2.2"> PEDOT</tspan></text>
<text x="334.5" y="285.9" font-size="10">2p<tspan font-size="7" dy="2.2">1/2</tspan><tspan dy="-2.2"> PEDOT</tspan></text>
<text x="334.5" y="300.8" font-size="10">2p<tspan font-size="7" dy="2.2">3/2</tspan><tspan dy="-2.2"> -SO</tspan><tspan font-size="7" dy="2.2">3</tspan><tspan dy="-2.2">H</tspan></text>
<text x="334.5" y="314.9" font-size="10">2p<tspan font-size="7" dy="2.2">1/2</tspan><tspan dy="-2.2"> -SO</tspan><tspan font-size="7" dy="2.2">3</tspan><tspan dy="-2.2">H</tspan></text>
<text x="496.4" y="264.0" font-size="10.3" text-anchor="start" fill="#000" textLength="18.2" lengthAdjust="spacingAndGlyphs" >S 2p</text>
<text x="284.9" y="264.5" font-size="16.3" text-anchor="start" fill="#000" textLength="10.5" lengthAdjust="spacingAndGlyphs" >D</text>
<text x="335.9" y="447.8" font-size="10.5" text-anchor="middle" fill="#000" >172</text>
<text x="399.7" y="447.8" font-size="10.5" text-anchor="middle" fill="#000" >168</text>
<text x="462.6" y="447.8" font-size="10.5" text-anchor="middle" fill="#000" >164</text>
<text x="525.5" y="447.8" font-size="10.5" text-anchor="middle" fill="#000" >160</text>
<text x="346.3" y="465.4" font-size="16.1" text-anchor="start" fill="#000" textLength="142.0" lengthAdjust="spacingAndGlyphs" >Binding Energy (eV)</text>
<text transform="translate(294.1,391.0) rotate(-90)" x="0" y="0" font-size="17" textLength="102.6" lengthAdjust="spacingAndGlyphs">Intensity (a.u.)</text>
</svg>
</body></html>
